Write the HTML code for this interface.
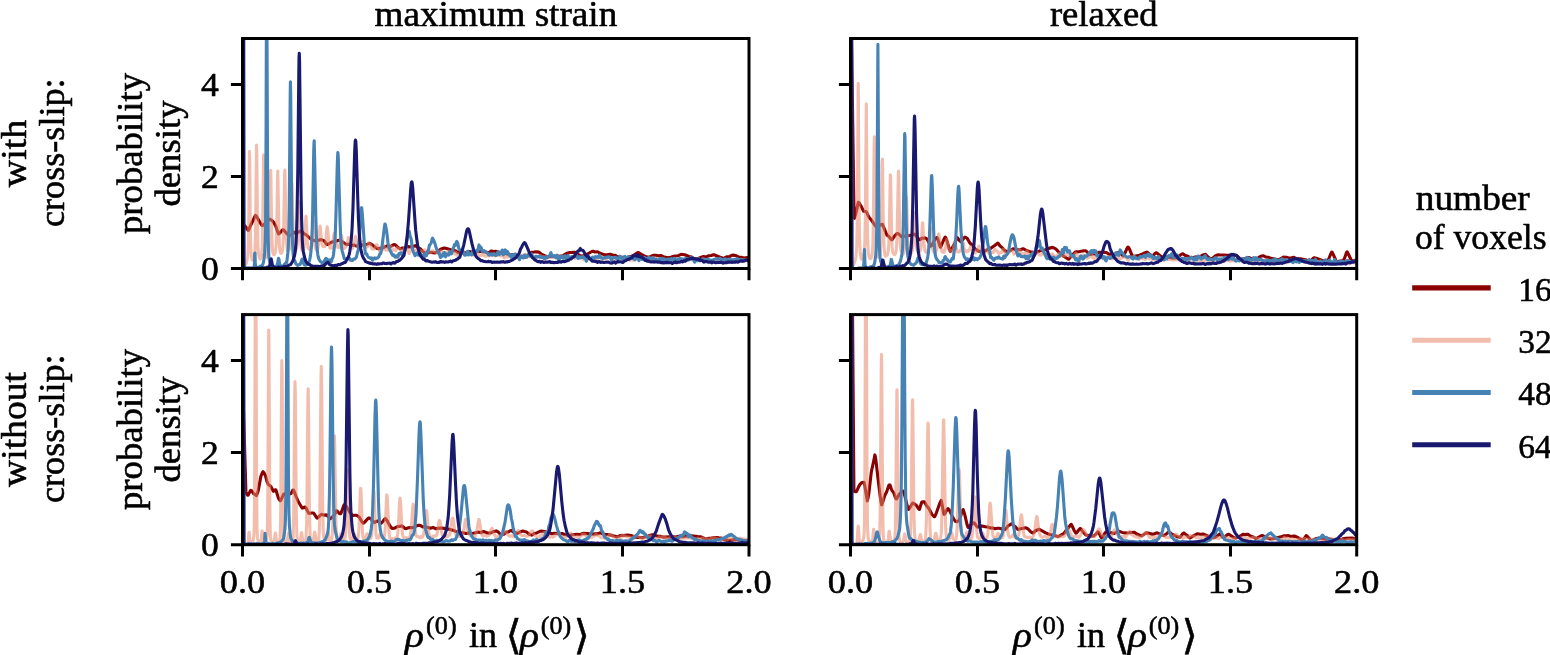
<!DOCTYPE html>
<html lang="en"><head><meta charset="utf-8"><title>probability density of dislocation density</title>
<style>html,body{margin:0;padding:0;background:#fff}svg{display:block}text{font-family:'Liberation Serif', 'DejaVu Serif', serif;fill:#000;stroke:#000;stroke-width:0.55px;stroke-linejoin:round}.c{fill:none;stroke-linejoin:round;stroke-linecap:butt}.s{fill:none;stroke:#000;stroke-width:3.00;stroke-linecap:square}.t{stroke:#000;stroke-width:3.00;fill:none}</style></head><body>
<svg width="1550" height="655" viewBox="0 0 1550 655" role="img" aria-label="Probability density of dislocation density for different numbers of voxels">
<rect width="1550" height="655" fill="#fff"/>
<defs>
<clipPath id="clTL"><rect x="242.50" y="38.50" width="506.50" height="230.00"/></clipPath>
<clipPath id="clTR"><rect x="850.50" y="38.50" width="506.20" height="230.00"/></clipPath>
<clipPath id="clBL"><rect x="242.50" y="314.60" width="506.50" height="230.10"/></clipPath>
<clipPath id="clBR"><rect x="850.50" y="314.60" width="506.20" height="230.10"/></clipPath>
</defs>
<g clip-path="url(#clTL)">
<path class="c" stroke="#8b0000" stroke-width="3.10" d="M242.6 223.1L245.6 226.7L247.9 230.2L248.2 230.4L248.4 230.3L249.4 228.3L250.7 225.2L253.2 220.2L254.7 216.6L255.3 215.7L255.5 215.4L256.3 216.2L257.3 217.7L260.8 223.8L261.8 225.2L262.3 225.6L263.1 225.3L263.6 224.9L268.2 220.4L269.2 219.7L270.2 219.3L270.4 219.3L270.9 219.8L272 220.5L273.5 222.1L275.8 226.2L277.5 231.5L278.5 233.9L278.8 233.9L279 233.7L280.3 232.5L282.3 230L282.6 229.8L283.4 229.8L284.1 230.4L287.1 233.9L289.2 235.6L289.7 235.9L291.2 235.3L293.5 232.3L293.7 232.1L296 233.7L296.3 233.8L298.5 232.1L301.1 230.7L301.3 230.7L303.9 233.6L306.4 235L308.7 237.2L311.5 239.7L313.7 240.2L315.8 241.1L318.8 240.3L320.3 239.7L321.1 239.6L323.9 240.6L326.4 244L327.1 244.5L327.4 244.5L328.4 244L331.7 242.2L333.7 241.4L334.7 241.2L336.5 241.1L337.5 240.5L339 240.3L341.6 241.2L344.9 243.6L346.6 244.5L349.4 244.1L351.7 245.4L352 245.5L354.5 245L355.8 245.7L356.8 246.1L357 246.1L359.6 244.8L362.1 245.1L364.6 245.1L369.7 243.4L372 244.6L374.7 247L376.5 248.2L377.3 248.6L378.3 248.8L379.8 248.3L382.3 248.2L387.1 245.9L387.4 245.9L389.9 246.9L392.5 245.3L394.5 244.5L395 244.7L397.5 247L398.8 247.9L399.8 248.6L400.3 248.7L401.1 248.7L402.6 248L405.1 247.8L407.6 246.6L410.2 246.9L412.7 246.9L415.2 245.6L416 246L417.8 247.5L420.1 248.6L423.6 252.2L425.4 253L427.9 252.9L430.4 252.3L434.5 253L435.2 252.9L437.8 251.7L440.6 249.3L444.1 248L445.6 248.2L448.2 249L453 250.4L455.5 250.7L458.3 252.7L460.8 252.3L464.1 253L465.6 253L468.4 251.6L470.9 251.9L473.5 251.3L476 252L478.5 251.4L481.1 251.4L485.9 252L488.4 252.9L488.7 252.9L491.2 250.9L493.7 251.6L496 251.3L496.5 251.4L501.3 252.9L503.8 253.2L508.9 254.2L511.2 254.9L514 254.9L516.5 255.7L519 256L524.1 257.5L526.6 256.7L529.2 254.2L531.7 252.2L534.2 252L536 251.7L536.8 251.9L539 252.1L541.8 254.5L546.4 256.5L546.9 256.7L551.7 256.7L556.8 256.2L559.3 256.4L560 256.3L562.3 255.7L564.6 254.7L567.1 253.2L568.9 252.7L569.7 252.5L571.9 252.4L574.5 252.2L577 253.7L579.8 255.6L582.3 256.3L584.9 255.3L591.9 251.5L592.4 251.3L593.2 251.3L595 252L597.5 251.7L600 253.3L604.9 254.9L607.4 254.8L610.2 254.2L612.4 255L615.2 255.4L617.8 257.1L620.3 257L625.1 257.5L627.9 257.3L631.4 256.3L633 255.7L636.7 253.2L638 252.5L638.5 252.6L640.5 254L642.8 255.1L645.4 256.5L647.9 257.3L650.4 256.7L653.2 255.3L656 255.2L658.3 255.7L660.8 255.5L663.3 256.7L665.9 257.3L668.4 257.7L670.9 257.2L673.5 256.3L678.3 255.7L681.1 254.4L683.3 254.5L684.6 254.7L688.4 256.3L691.2 256.9L693.7 258.3L696 258.6L698.8 258.2L701.3 257.3L703.6 256.6L706.4 257L708.9 255.7L711.4 255.5L712.9 254.9L713.5 254.8L714 254.8L718.8 256.6L721.6 257.9L723.8 258.2L724.6 257.9L726.6 256.8L729.1 256.8L731.7 255.3L733.2 255.1L734.2 255.4L736.5 255.8L739.3 257.3L741.8 257.4L744.1 258L749.4 257.3"/>
<path class="c" stroke="#e9876a" stroke-opacity="0.55" stroke-width="3.10" d="M242.6 266.3L243.1 265.5L243.9 265.1L245.1 265.2L245.9 264.3L246.1 263.7L247.4 258.8L247.9 254.3L248.4 241.1L248.7 226.7L249.4 151.2L249.7 157.6L250.4 232.4L250.9 250.4L251.5 256.8L252 259.5L252.2 260.1L252.5 260.1L253.2 259.1L253.7 258.7L254.2 257.3L254.5 255.9L255 250L255.5 233.9L256.5 145L256.8 153.6L257.3 207.8L257.8 239.7L258 247L258.5 253.8L259.3 257.8L259.6 258.5L260.1 259.1L260.3 259.1L260.8 258.3L261.3 256.4L261.6 254.7L262.1 248.2L262.3 241.3L262.8 214.1L263.6 154.8L263.9 164L264.4 210.2L264.9 238.3L265.6 252.2L266.1 256.5L266.4 257.4L266.9 256.8L267.7 255.2L268.7 251.7L269.2 247L269.7 230.3L270.4 178.8L270.7 170.3L270.9 178.4L271.7 228.7L272.2 245.2L272.7 251.6L273 253L273.5 254.5L273.7 254.7L274 254.8L274.5 254.3L275 253.1L275.5 251L276 246.8L276.5 235.5L276.8 224.9L277.5 177.2L277.8 171.1L278 179.4L278.8 226.4L279.3 243L279.8 249.7L280.3 252.1L280.8 253.2L281.1 253.4L281.3 253.4L281.8 252.7L282.3 250.7L282.8 246.9L283.1 243.6L283.6 230.3L284.6 174.1L284.9 170.1L286.1 232.6L286.4 238.6L286.9 245.7L287.4 249.7L287.7 250.7L287.9 250.9L288.2 250.9L288.9 250.2L289.4 249L289.9 245.5L290.2 242.2L290.7 230.1L291.7 185.1L292 183.2L293.2 234.6L293.7 244.8L294.2 249L294.5 249.9L294.7 250.3L295 250.2L295.8 249L296 249.2L296.3 249.1L296.5 248.8L296.8 247.8L297.3 243L297.8 233.5L298.8 202.5L299 201.9L300.1 232.2L300.6 241.6L301.3 247.9L301.8 249.8L302.6 251L302.8 251L303.1 250.7L303.6 249.5L304.1 247.2L304.4 245.2L304.9 238L305.6 220.3L305.9 216.5L306.1 216.4L307.4 241.2L307.9 247.2L308.2 248.1L308.4 248.5L308.9 248.8L309.4 249.3L309.7 249.4L309.9 249.3L310.4 248.3L311.2 245.4L311.7 241.2L313 220.2L313.2 220.6L313.5 223.9L314.2 238.1L314.7 244.1L315 245.9L315.5 248.1L316.5 250.1L316.8 250.4L317 250.5L317.8 248.9L318.5 244.7L319.8 227.9L320.1 226L320.3 226.5L321.3 239.1L321.8 243.3L322.3 245.5L322.6 246.1L323.1 246.6L324.1 246.2L324.6 246.7L324.9 246.7L325.1 246.1L325.9 240.9L326.9 228.2L327.1 226.8L327.4 227.6L327.7 229.9L328.7 241.1L329.7 246.8L329.9 247.9L330.2 248.2L330.9 246.4L331.2 246.2L332 247.8L332.2 247.3L333.7 235.5L334 233.9L334.2 233.3L334.5 233.9L335.2 239.9L335.8 242.6L337 246.2L337.8 247.3L338.5 247.8L339 247.7L339.3 247.1L339.8 244.4L340.8 237.2L341.1 235.9L341.3 235.4L341.6 235.7L341.8 236.9L342.8 243.2L343.9 247.3L344.4 248.4L345.6 247.2L346.9 245.3L347.4 243.2L348.2 238L348.4 237.5L348.7 237.9L348.9 239.1L350.2 245.9L350.4 246.6L350.7 246.6L351.2 246.4L351.4 246.5L352.2 248.4L352.5 248.5L353.7 245.2L354.2 243.5L355 238.2L355.2 236.8L355.5 236.4L355.8 237.2L356.8 243L357.3 245L358.3 247.9L358.5 248.3L359 248.7L359.3 248.7L359.6 248.6L361.1 245.9L362.3 241.6L362.6 241.6L363.6 245.9L363.9 246.1L364.4 246.3L364.6 246.5L365.4 248.2L365.6 248.3L366.6 246.5L367.4 246.8L367.7 246.5L368.4 243.3L368.7 242.7L369.7 244.4L369.9 244.2L370.4 244.4L371.7 248.5L372.2 249L373 249.2L373.7 249.2L374.2 248.7L375 247.6L376.3 244.9L376.5 244.6L376.8 244.6L377.5 245.8L379.5 251.2L379.8 251.4L380.8 249.4L381.8 249.1L382.6 249.6L382.8 249.2L383.6 246L383.9 245.7L385.1 249L385.6 250.1L385.9 250.2L386.6 248.8L386.9 248.6L387.6 249.8L387.9 250L388.9 249.1L389.7 248.8L390.7 246.3L390.9 246.1L391.7 247.1L392.7 249.8L393 250.2L394 249.7L395 250L395.8 250.7L396 250.4L397 247.5L398 248.5L398.8 248.1L399.8 248.7L401.1 251.7L401.8 251.6L402.1 251.4L403.9 249.1L404.9 247.1L405.1 247L405.9 248L406.9 249.8L407.1 250.1L407.9 250.3L408.2 250.7L408.9 253.4L409.2 253.6L410.2 250.9L411.2 248.7L411.7 248.8L412.2 249.2L413 249.4L414 250.4L414.2 250.5L415.2 250L416 250.7L417 251.3L417.3 251.1L418 249.3L418.3 249.1L419.3 251L420.1 250.7L420.3 250.9L421.1 252.2L421.3 252.2L422.1 250.8L422.3 250.8L423.1 252.9L423.3 252.9L424.4 249.8L425.4 250.1L426.4 251.4L427.1 252L427.4 252.2L428.4 251.8L430.2 252.6L431.2 252.2L432.2 251L432.7 250.8L433.5 250.9L435 252L436.5 252.6L437.3 252.4L438.5 251.9L439.3 252.3L439.5 252.2L440.3 250.9L440.6 250.8L441.3 251.2L441.6 251.5L443.3 254.9L443.6 254.9L444.6 252.6L446.6 252.6L447.4 253.1L447.6 253L448.4 251.2L448.7 251.1L449.7 253.5L450.4 253.6L450.7 253.4L451.7 251.5L453.5 251.4L453.7 251.6L454.5 253.6L454.7 253.8L455.5 252.4L455.7 252.5L456.5 254.9L456.8 255.2L457.5 253.8L457.8 253.6L458.8 254L459.8 254L460.6 254.2L460.8 254.1L461.8 253L463.6 253.6L464.9 253.6L465.9 254.5L466.9 254.3L467.6 254.8L467.9 254.8L468.9 253.8L470.7 254.3L471.9 254.9L473 254.8L473.7 255.1L474 255L475 253.9L475.7 253.5L476.5 253.3L477.8 253.3L478 253.5L479 255.1L480 255.5L481.1 255.2L481.8 255.3L482.1 255.1L482.8 253.8L483.1 253.8L484.1 255.5L485.1 256.1L485.9 256.3L486.1 256.3L487.1 255.5L487.9 255.3L488.2 255.3L489.2 255.9L490.9 255.1L491.2 255.1L492.2 255.6L493.2 255.4L494 254.7L494.2 254.8L495 255.8L495.2 255.9L497 254.9L497.3 254.9L498.3 255.5L499.3 255.5L501.1 256.1L501.3 256.1L502.3 255.2L503.1 254.7L503.3 255L504.1 257.6L504.4 257.9L505.4 256.3L507.1 257L508.1 257L509.2 256.4L510.4 255.2L511.4 255.5L512.5 255.5L513.2 255.8L513.5 255.8L514.2 255.3L514.5 255.4L515.5 256.7L516.5 256.6L517.5 257L518.5 257.1L520.3 256.8L521.6 255.3L522.3 255.8L522.6 255.8L523.3 254.9L523.6 255L524.4 257.2L524.6 257.3L525.4 254.7L525.6 254.2L526.6 254.9L527.4 256.3L527.6 256.5L528.4 255.8L528.7 255.8L529.4 256.8L529.7 256.9L530.4 255.4L530.7 255.3L531.7 256.7L532.7 256.6L534.7 257.2L535.7 257.1L536.8 257.7L537.8 257.1L538.8 257L539.5 256.6L540.6 255.6L540.8 255.7L541.8 257.7L542.8 257.5L543.6 256.6L543.8 256.5L544.6 257.3L544.9 257.4L545.6 256.9L545.9 256.9L546.6 257.9L546.9 258.1L547.9 257.3L548.9 257.4L550.7 256L550.9 255.9L553 257.3L554 257L554.7 256.2L555 256.1L555.7 257.1L556 257.2L557 256.7L557.8 257.2L558 257.1L558.8 255.9L559 255.7L560.8 257.7L561.1 257.6L561.8 255.8L562.1 255.6L563.1 257.8L564.1 257.9L564.9 258.3L565.1 258.3L566.1 257.1L567.1 256.6L567.9 256.5L568.1 256.6L568.9 257.3L569.2 257.4L570.2 256.5L572.2 257.4L573.2 257.5L574 257.4L574.2 257.4L575 258.4L575.2 258.4L576.2 257L577 256.8L577.3 256.8L578.3 257.6L579 257.7L580.3 257.2L581.3 257L582.1 257.2L582.3 257.4L583.1 259.3L583.3 259.5L584.3 258L585.4 258.2L586.4 257.3L587.1 256.5L587.4 256.5L588.4 258.2L589.4 258.6L591.2 258.9L591.4 258.9L592.4 257.7L593.2 257.3L593.5 257.3L594.5 258.3L595.5 258.3L596.2 258.8L596.5 258.8L598.3 257.3L599.3 256.9L599.5 257L601.3 259.3L601.6 259.4L602.3 258.1L602.6 257.9L603.3 258.6L603.6 258.6L604.3 257.2L604.6 257.2L605.6 259.1L606.4 259.1L606.6 258.9L607.6 257.3L609.4 257.5L610.4 258.7L610.7 258.8L611.4 257.8L611.7 257.6L612.7 258.1L613.7 257.7L614.7 258.2L615.7 259.1L616.8 259L618.5 258.2L618.8 258.2L619.5 258.8L619.8 258.8L620.8 257.5L621.8 257.7L622.6 257.5L623.8 258.1L624.6 257.8L624.9 257.9L625.6 259L625.9 259.1L626.6 258.4L626.9 258.4L627.9 258.9L628.6 258.5L628.9 258.6L629.7 260L629.9 260.2L631.7 258.8L631.9 258.9L632.7 260.3L633 260.4L634 258.1L634.7 258L635 258.1L635.7 259.2L636 259.3L636.7 258.5L637 258.4L638 259.3L638.8 259.2L639.8 259L640 258.8L640.8 257.4L641.1 257.4L642.1 259.5L643.1 259.3L644.1 259.2L644.9 258.7L645.1 258.7L646.1 260L647.9 259.6L648.1 259.6L648.9 260.2L649.2 260.2L650.2 259L650.9 258.9L651.2 258.7L651.9 257.6L652.2 257.6L653 259.4L653.2 259.7L654.2 258.6L655.2 258.8L656 258.2L656.2 258.2L658 259.4L658.3 259.4L659.3 258.5L660.3 258.7L661.1 259.4L661.3 259.5L662.1 258.8L662.3 258.8L663.1 259.7L663.3 259.7L664.1 258.9L664.3 258.9L666.1 260.3L667.1 260.7L668.1 260.2L669.4 259.2L670.4 259.4L671.2 260.3L671.4 260.3L672.4 259.4L674.2 258.7L674.5 258.9L675.5 261L676.5 260.7L677.5 259.4L679.3 259.8L680.3 260.3L680.5 260.2L681.3 258.6L681.6 258.4L682.6 259L683.3 259.6L683.6 259.7L684.3 259.4L684.6 259.4L685.4 260.3L685.6 260.3L686.4 259.4L686.6 259.3L687.4 260.1L687.6 260.2L689.7 258.9L690.7 259.3L691.4 259L691.7 259L692.4 260.1L692.7 260.2L693.5 258.9L693.7 258.7L694.5 259.1L694.7 259L695.5 258.3L695.7 258.3L696.5 259.9L696.7 260L697.5 258.8L697.8 258.7L698.8 259.7L699.8 259.7L700.8 259.5L701.6 259.9L701.8 259.9L702.6 258.8L702.8 258.6L703.8 259.7L705.6 260.1L706.9 260.1L707.6 260.4L707.9 260.4L708.9 259.6L709.9 260.1L710.9 260.9L711.7 261L713.7 260L714 260L715 260.8L716.7 259.7L717 259.7L718 260.3L719 260L719.8 260.4L720 260.3L720.8 259.3L721 259.3L721.8 261.2L722.1 261.5L723.1 260.2L723.8 259.7L724.1 259.7L725.1 260.4L726.1 260.3L726.9 260.9L727.1 261L728.1 260.4L729.1 260.4L729.9 260.3L730.9 259.6L731.2 259.6L731.9 260.2L732.2 260.3L733.2 259.7L734.2 260.2L736 260.6L737.3 260.1L738 260.6L738.3 260.6L739 259.6L739.3 259.6L740 261.4L740.3 261.5L741.3 259.6L742.1 259.5L743.3 260.1L744.3 260L745.4 260.7L746.1 260.9L747.1 260.5L747.4 260.6L748.1 261.6L748.4 261.5L749.4 259.4"/>
<path class="c" stroke="#4682b4" stroke-width="3.10" d="M242.6 11L243.6 11L243.9 268.6L245.1 268.6L247.2 268.1L247.9 268.6L248.2 268.6L249.2 267.9L252.2 268.5L254 267.1L254.2 266.4L254.5 263.1L254.7 253.5L255 253.1L255.3 262.4L255.5 266L255.8 266.8L256.5 267.1L258.3 267.3L259.3 266.9L260.3 266.1L261.3 266.1L262.1 265.7L262.6 264.9L263.1 263.7L263.6 261.6L264.1 258.1L264.6 252.9L265.1 243.8L265.4 235.8L265.6 220.5L266.1 123.8L266.4 15.1L266.6 11L266.9 11L267.7 203.9L268.2 240.7L268.7 253.4L268.9 256.6L269.4 260.5L269.9 262.1L270.7 263.8L272.2 266L273.2 266.8L273.5 266.9L274.5 266.4L275.3 266.6L275.8 266.6L276.3 266.4L276.8 265.7L277.5 263.5L278.5 258.3L278.8 258.6L279.6 263.7L280.1 265.2L280.8 265.8L281.6 266.1L282.8 266.1L283.6 265.8L284.6 264L285.6 263L286.4 262.9L286.6 262.4L287.1 259.3L287.7 254.8L288.2 248.3L288.7 235.8L289.2 209.5L290.2 94.9L290.4 81.9L290.7 94.6L291.7 209.9L292 225.7L292.5 243.4L293 252.4L293.5 257.8L293.7 259.1L294.5 260.1L294.7 260.6L295.8 263.7L297.5 265.5L297.8 265.5L298.8 264.5L299.6 264.8L300.1 264.3L301.1 262.2L301.8 259.7L302.1 259.1L302.3 259.1L302.6 259.5L303.6 263.5L303.9 264.1L304.4 264.8L304.9 265.1L305.6 265.3L305.9 265.2L306.6 263.7L306.9 263.5L307.7 264.5L307.9 264.5L309.2 261.3L309.7 259.6L310.2 257.3L310.7 254L311.5 245.9L312.2 230.2L312.7 210.6L313.7 152.2L314 142.8L314.2 140.9L314.7 159.7L315.8 216L316.3 233.1L317 247.5L317.8 254.7L318.3 257.2L318.8 258.8L320.1 261.2L320.6 261.6L322.1 262.6L322.8 263.5L323.1 263.4L325.4 259.1L325.9 258.4L326.1 258.3L326.4 258.6L327.1 259.8L328.2 260L328.9 260.6L329.2 260.6L329.9 259.8L330.2 259.9L330.9 261.7L331.2 261.8L332.2 258.8L333 257.1L333.5 254.3L334.7 244.4L335.2 236.1L336 213L337.3 163.2L337.8 152.6L338 153.3L338.3 158.1L340.1 223.1L340.6 235.1L341.1 242.8L341.6 247.6L342.1 250.6L343.3 254.9L344.1 258.1L344.4 258.6L345.4 258.9L346.1 259.6L346.4 259.6L347.1 258.2L347.4 258L348.2 258.6L348.4 258.6L349.2 258.1L349.4 258.2L350.4 260.1L351.2 259.8L351.4 259.8L352.2 260.6L352.5 260.5L353.5 259L354.2 259.3L354.5 259.2L355.2 258.6L356 257.7L356.5 256.7L357.5 252.3L358.3 249.7L358.5 247.9L359.3 238.9L361.1 211.1L361.3 208.6L361.6 207.7L361.8 208.6L362.3 213.8L364.4 244.3L364.9 249.5L365.4 253.1L365.6 254L366.4 253.7L366.6 253.8L367.4 255.7L368.4 257.3L368.7 257.5L369.7 257.7L370.4 258.4L370.7 258.4L371.4 257.8L371.7 258L372.5 259.9L372.7 260.1L373.7 258.5L374.5 257.8L374.7 257.8L375.5 258.8L375.8 258.8L376.8 258.1L377.5 258L378 257.6L378.8 256.7L379.8 254L380.6 253.7L380.8 253.2L381.8 248.3L384.4 227.1L384.9 224L385.1 224.1L385.4 224.7L386.6 230.7L387.9 242.2L388.9 247.8L389.7 249.7L390.9 251.9L391.7 253.7L392.7 255.4L393 255.5L393.7 254.8L394 254.9L395 257L395.8 257.3L396 257.1L396.8 255.9L397 255.9L397.8 257.2L398 257.1L398.8 254.1L399 253.5L399.8 254.1L400.1 254L400.8 252.8L401.1 252.8L402.1 254.9L402.8 254.7L403.1 254.4L404.1 251.8L405.1 248.4L405.9 247.6L406.1 246.6L407.1 239.3L408.4 233L408.9 231.2L409.2 231.3L409.4 232.3L410.2 236.6L410.9 238.2L411.2 239.2L412.2 247.4L412.7 249.9L413.2 251.7L415 255.5L415.2 255.6L417 253L417.3 253L418.3 255.1L419 255L419.3 254.8L420.1 253.6L420.3 253.6L421.3 255.2L422.3 255.7L423.1 255.6L423.3 255.7L424.1 256.8L424.4 256.6L425.1 253.6L425.4 253.3L426.1 255.6L426.4 255.7L427.4 251.5L428.2 251.1L428.4 250.4L429.4 245.1L430.2 244.5L431.2 243L432.2 238.7L432.5 238.2L433 238.8L434.2 241.3L436.5 248.7L438.3 253L438.5 253.4L439.3 253.4L439.5 253.8L440.3 257.1L440.6 257.5L441.3 255.8L441.6 255.5L442.3 256.3L442.6 256.1L443.6 253.2L444.4 252.5L444.6 252.8L445.4 256.4L445.6 256.8L446.4 254.4L446.6 254L447.6 254.5L448.4 255.2L448.7 255L449.4 252.4L449.7 252L450.7 253.4L451.4 253.8L451.7 253.5L452.7 249.4L453.5 247.8L454.5 244.8L454.7 244.4L455.5 245.3L455.7 245L456.5 241.8L456.8 241.4L457.5 242.4L457.8 243.2L458.8 248.4L459.5 249.6L459.8 249.9L460.6 250.1L460.8 250.5L461.6 252.6L461.8 252.7L462.6 250.4L462.8 250.3L463.8 253.9L464.6 255.1L464.9 255.3L466.6 254.8L466.9 254.3L467.6 251.4L467.9 251.2L468.7 254.3L468.9 254.8L469.9 253.9L470.9 254L471.7 254.9L471.9 254.6L472.7 250.8L473 250.5L473.7 253.8L474 254.2L475 251.9L475.7 251.8L476 251.5L476.8 250.2L477 250.1L477.8 251.2L478 250.8L478.8 245.7L479 244.9L480 247L480.8 247.1L481.1 247.5L482.1 251L482.8 251.7L483.1 251.7L483.8 250.7L484.1 250.6L485.9 252.2L486.9 252.3L487.1 252.5L488.9 255L489.2 255.1L490.2 253.9L491.2 254.2L491.9 255L492.2 255.1L493.2 254.4L494 253.5L494.2 253.6L495.2 255.3L496 255.5L496.3 255.4L497 254.4L498 251.8L498.3 251.7L499 254.2L499.3 254.6L501.1 253L502.1 250.1L502.3 250.1L503.1 254.3L503.3 254.8L504.4 250.8L505.1 249.8L505.4 250.1L506.1 253.2L506.4 253.5L507.1 251.5L507.4 251.3L509.2 255.2L509.4 255.5L510.2 254.6L510.4 254.7L511.2 257.1L511.4 257.5L512.2 257.2L512.5 256.9L513.2 254.8L513.5 254.7L514.2 257L514.5 257L515.2 254.1L515.5 253.8L516.3 256L516.5 256.3L517.3 255.1L517.5 255L518.3 256.3L519.3 259.4L519.5 259.6L520.6 256.7L521.3 256L521.6 256L522.6 257.4L523.3 258L523.6 257.8L524.4 255.4L524.6 255.1L525.6 256.5L526.4 257.1L526.6 257.2L527.6 256L528.4 254.4L528.7 254.3L529.4 255.9L529.7 256L530.4 254.2L530.7 253.9L531.2 253.8L531.4 253.8L531.7 254.1L532.7 256.6L533.5 258L533.7 258.4L534.5 258.7L534.7 258.5L535.7 256.3L536.8 256.5L537.5 256.9L537.8 256.9L538.5 256.3L538.8 256.2L539.8 257.2L540.8 256.8L541.8 257.4L542.6 257.2L542.8 257.3L543.8 258.3L544.6 258.8L544.9 258.7L545.6 257.1L545.9 256.9L546.6 257.8L546.9 257.9L547.9 257L548.9 255.7L549.7 255.8L549.9 255.5L550.7 252.9L550.9 252.7L551.9 255.4L552.7 256.5L553 256.6L554 255.6L554.7 255.8L555 256.1L555.7 257.7L556 257.7L556.8 255.4L557 255.2L558.8 260.9L559 260.9L559.8 257.1L560 256.5L560.8 257.6L561.1 257.7L561.8 256.2L562.1 256.2L563.1 258.1L563.8 258.2L564.1 257.9L564.9 255.8L565.1 255.7L565.9 258.3L566.1 258.7L567.1 257.3L567.9 255.8L568.1 255.7L569.2 257.8L569.9 258.4L570.2 258.3L571.9 256.5L572.2 256.5L573 257.2L573.2 257.2L574.2 256.1L575 256.4L575.2 256.3L576 254.7L576.2 254.6L577.3 257.4L578 258.4L578.3 258.4L579 256.9L579.3 256.7L580 257.8L580.3 257.9L581.3 257.2L582.1 257.4L582.3 257.4L583.1 256.5L583.3 256.5L584.1 257.9L584.3 258.1L585.1 257.5L585.4 257.8L586.1 260.9L586.4 261.2L587.4 257.8L588.1 256.4L588.4 256.3L589.4 258.3L590.4 259L591.2 259.1L591.4 258.9L592.2 257.3L592.4 257L593.5 257.6L594.2 258.5L594.5 258.5L595.2 256.8L595.5 256.6L596.2 257.3L596.5 257.3L597.3 256.6L597.5 256.6L598.3 257.6L598.5 257.5L599.3 255.4L599.5 255.1L600.5 257.1L602.6 258.3L603.3 258.4L603.6 258.3L604.6 257.4L605.6 257.7L606.6 257L607.6 257.4L608.6 256.9L609.7 256.9L610.4 257.6L610.7 258L611.4 260.1L611.7 260.3L612.7 257.7L615.5 257.2L615.7 257.4L616.5 258.7L616.8 258.9L617.5 258.2L617.8 258.1L618.5 258.8L618.8 258.6L619.5 256.5L619.8 256.2L620.8 257.6L622.6 259.4L622.8 259.4L624.6 256.5L624.9 256.4L625.9 257.9L626.6 258.2L626.9 258.1L627.9 256.7L628.9 257L629.9 257.6L631.7 257L631.9 257.1L633 257.9L633.7 257.6L634 257.8L634.7 259.7L635 259.8L635.7 257.7L636 257.4L636.7 258.5L637 258.5L637.8 256.9L638 257L638.8 260.2L639 260.6L640.8 256.9L641.1 256.8L641.8 259L642.1 259.3L643.1 258L644.1 257.6L644.9 257.7L645.1 257.9L646.1 259.3L646.9 259.8L647.1 259.7L648.1 257.9L648.9 257.3L649.2 257.3L650.2 259.1L651.2 259.2L651.9 259.5L652.2 259.4L653 257.8L653.2 257.7L654.2 260L655 260.7L655.2 260.6L656 259.3L656.2 259.2L657.3 260.3L658.3 260.1L659.3 259.1L660 258.7L660.3 258.7L661.1 259.9L661.3 259.9L662.1 258.2L662.3 258.2L663.1 260.5L663.3 260.8L664.1 259.1L664.3 259L665.4 260.7L666.1 260.7L666.4 260.5L667.4 259L668.4 259.3L669.4 260.1L670.4 259.5L671.2 258.6L671.4 258.6L672.2 259.5L672.4 259.6L673.5 258.9L674.2 258.2L674.5 258.2L675.2 259.8L675.5 260.1L676.5 259.8L677.3 260.1L677.5 260.1L678.5 259L679.5 258.6L680.3 258.5L681.6 259.3L682.3 259.5L682.6 259.5L683.3 259L683.6 259L684.3 259.8L684.6 259.8L685.6 258.3L686.4 258.4L686.6 258.6L687.4 259.9L687.6 260.1L688.6 259.5L689.4 259.8L689.7 259.6L690.7 257.8L691.4 257L691.7 257.1L692.7 259.7L693.5 259.5L693.7 259.8L694.5 261.9L694.7 262.1L695.7 260.1L696.7 260.4L697.5 260.8L697.8 260.7L698.5 258.8L698.8 258.7L699.5 260.5L699.8 260.8L700.8 260.3L701.6 260.2L702.6 260.6L702.8 260.5L703.6 259.1L703.8 258.9L704.8 259.5L705.9 260.8L706.6 261.1L706.9 260.9L707.6 259.2L707.9 258.9L709.7 260.6L709.9 260.7L710.9 260.1L711.9 260.4L712.7 260.2L714 259.4L715 259.2L715.7 258.8L716 258.7L717 259.2L718 259.1L719.8 258.3L720 258.3L720.8 258.9L721.8 261.3L722.1 261.5L722.8 259.8L723.1 259.6L723.8 260.1L724.1 260L724.8 258.8L725.1 258.8L725.9 260.4L726.1 260.7L727.1 259.6L728.1 259.6L728.9 259L729.1 259L730.2 259.9L732.2 259.8L733.2 260.1L734.2 259.6L735.2 259.9L736 259.7L737 258.6L737.3 258.6L738.3 260L740 260.5L740.3 260.4L741 259.4L741.3 259.4L742.1 261.1L742.3 261.4L744.1 259.9L745.1 259.7L746.4 260.2L747.4 260.4L748.1 260.7L748.4 260.7L749.4 260.3"/>
<path class="c" stroke="#191970" stroke-width="3.10" d="M242.6 11L243.6 11L243.9 267.9L244.1 267.8L244.9 268L246.1 268.7L247.2 268.2L247.9 268.2L249.2 268.7L250.2 268.2L251.2 268.4L252.2 268.3L253.2 268.5L255.3 268.2L257 268.4L258.3 268.2L259.3 268.4L260.1 268.1L260.3 268.1L261.1 268.7L261.3 268.7L262.3 267.7L263.4 268L265.4 267.7L266.1 268L266.4 268L267.2 267.2L267.4 267.1L268.2 267.6L268.4 267.6L269.4 266.3L269.9 265L270.9 259.2L271.2 258.8L272.5 265.5L273 266.7L273.5 267.3L274.5 267.3L275.5 268L276.5 267.5L277.5 267.4L278.5 266.9L279.6 267.3L281.6 267.3L282.8 267.1L284.6 266.5L285.4 266.7L286.6 266.3L287.4 266.3L287.7 266.2L288.7 265.2L290.4 264.6L290.7 264.4L292.7 261.2L294.5 255.7L295.3 251.3L296 243.3L296.5 233.5L297 216.5L297.8 170.3L298.8 73.5L299 57.4L299.3 53.2L299.6 62.5L299.8 82.1L301.1 194.8L301.6 219.5L302.3 240L302.8 247.8L303.4 251.7L304.4 256.8L305.4 260.2L306.1 261.8L307.7 263.6L308.7 264.3L309.9 264.6L310.9 265.6L312 265.8L313 266.3L317.8 266.3L319.8 266.8L320.1 266.8L321.1 266.1L322.1 266L323.1 266.3L324.1 265.7L326.6 262.7L327.4 262.2L327.7 262.2L328.2 262.5L329.2 264.1L330.2 265.1L333 265.7L336 265.2L337 265.4L338.3 264.5L339.3 264.8L340.1 264.7L341.3 263.9L342.3 263.6L344.1 262.6L345.1 262.5L345.4 262.3L348.4 256.9L349.2 254.4L349.7 252L350.7 245.3L351.4 237.5L352 229.8L353 207.3L354.7 151L355.2 141.3L355.5 140L355.8 141.4L356.3 151.2L357.8 200L358.5 219.6L359.3 234.1L360.1 243.3L360.8 249L361.3 251.7L362.1 254.7L362.8 256.8L363.6 258.3L364.6 259.7L365.6 261.6L368.7 262.9L369.7 263L370.7 263.5L371.7 263.4L372.7 263.9L374.7 263.7L376.5 264.4L376.8 264.3L377.8 263.7L378.8 264L380.6 263.7L381.6 263.8L382.8 263.1L383.6 263L384.9 263.5L386.6 263.6L387.9 263.2L388.9 263.2L389.7 263.1L390.9 263.9L392 263.1L393 262.6L394 262.9L394.7 263.2L395 263.2L396 261.8L398 261.3L399 260.5L400.1 260L401.1 259L403.9 255.5L404.1 254.8L405.9 246L407.1 236.8L408.4 222.4L410.7 188.9L411.2 183.8L411.4 182.5L411.7 181.9L412 182.1L412.2 183.2L412.7 187.6L415 221.1L415.7 230.2L416.8 239.4L418 247.9L418.8 251.1L420.3 255.5L421.3 256.7L423.1 259.1L423.3 259.3L424.1 259L424.4 259.1L425.4 260.5L426.1 261L426.4 261L427.4 260.5L429.2 261.5L432.2 262.2L433.5 261.9L434.5 262.1L435.5 261.7L436.5 262.3L437.3 262.5L438.5 262.2L439.3 262.4L439.5 262.3L440.3 261.5L440.6 261.5L441.6 262L443.3 261.8L444.6 262.4L445.6 261.8L447.6 262L448.7 261.9L450.4 261.1L450.7 261.1L451.4 261.9L451.7 262L452.7 261.1L453.5 260.7L455.5 260.3L456.8 259.2L457.8 259L458.8 257.8L459.5 257.6L459.8 257.2L460.8 253.8L461.8 251.9L463.8 244.8L466.6 231.2L467.4 229.2L467.6 228.9L468.2 228.7L468.7 229.3L469.4 231.7L471.9 243.4L473.7 250.4L476 256.4L477.8 258.3L479 258.9L480.8 260.7L481.1 260.8L482.1 260.6L483.1 261.2L486.1 261.8L487.1 261.8L488.2 261.4L489.9 261.7L490.9 261.6L492.2 262.4L493.2 262.3L494.2 262L496 262.3L497.3 262L500 262.3L501.3 261.8L502.3 262L503.3 261.6L504.4 262.2L505.1 262.3L506.4 261.7L507.4 261.9L508.4 261.6L509.4 261.4L512.2 260.2L513.5 259.2L514.5 258.7L516.5 257.1L517.5 255.3L518.3 254.5L519.3 253L520.6 248.8L521.6 247.3L522.6 245L524.1 242.8L524.4 242.5L524.6 242.5L525.1 243L525.6 243.8L527.6 248.4L529.7 253.5L532.5 257.7L533.7 258.5L534.7 259.9L535.7 260.2L536.8 261.1L537.8 261.6L538.5 261.7L539.5 261.3L539.8 261.4L540.6 262.3L540.8 262.4L541.8 261.6L542.8 261.8L543.8 262.4L545.9 261.9L546.9 262.2L547.6 262.1L548.9 261.9L549.7 261.6L549.9 261.6L550.9 262.6L551.9 262.3L552.7 262.3L554 262.7L556 262.2L557 262.4L557.8 262.4L559 261.7L560 261.8L560.8 262.2L561.1 262.2L562.1 261.5L563.1 261.4L564.1 261.8L565.1 261.6L566.1 261L567.1 260.8L568.1 260.2L569.2 259.9L570.2 259.1L571.2 258.9L573.2 257L574 256.8L574.2 256.6L576 253.3L578 250.9L578.3 250.8L579 251L579.3 250.7L580 248.8L580.3 248.5L581.3 250L583.1 250.5L583.3 250.8L585.4 254.6L587.1 256.5L587.4 256.7L588.1 256.6L588.4 256.9L589.4 258.9L590.4 259L591.9 260.8L592.4 261.1L594.2 261.2L595.5 261.6L596.2 261.4L596.5 261.4L597.3 262.3L597.5 262.4L598.5 261.8L599.3 261.5L599.5 261.5L600.5 262.5L602.3 262.1L603.6 262.5L604.3 262.5L605.6 262.2L608.4 262L609.7 262.8L611.4 263.1L612.4 262.9L613.7 262L614.5 261.9L614.7 262L615.5 262.9L615.7 263.1L617.5 261.6L617.8 261.5L618.8 262L619.8 261.8L620.5 261.8L622.8 262.4L623.8 261.7L624.9 260.7L625.9 260.6L626.9 259.8L628.9 259.3L630.9 258.2L631.7 258L633 256.1L633.7 255.5L634 255.4L635 255.7L635.7 255.3L636 255.3L636.7 256.2L637 256.2L637.8 254.9L638 254.9L639 256.6L640 256.6L641.1 257.2L642.1 257.3L644.1 259.1L644.9 260.3L645.1 260.4L645.9 259.9L646.1 259.9L646.9 261.1L647.1 261.2L648.1 260.9L649.2 261.4L651.2 262L652.2 262L653.2 261.7L654.2 262.1L655.2 261.7L657.3 262.1L659.3 262.1L660.3 262.3L661.3 262.7L662.3 262.6L663.3 262.9L667.1 262.4L670.2 262.7L671.2 262.6L671.4 262.6L672.2 263.4L672.4 263.5L673.5 262.6L674.5 262.5L675.2 261.9L675.5 261.9L676.2 262.7L676.5 262.8L677.5 262.3L679.5 262.2L680.5 261.8L681.3 261.4L681.6 261.3L682.6 261.9L683.6 261.4L684.3 260.7L684.6 260.6L685.4 261.1L685.6 261L686.6 259.6L687.4 259.3L688.6 259.3L690.7 258.4L692.4 258.1L693.7 258.6L694.7 258.7L696.5 259.2L697.8 259L698.8 259.7L699.5 259.4L699.8 259.4L700.5 260.5L700.8 260.6L701.8 260.3L702.6 260.7L703.6 261.9L703.8 262.1L704.8 261.5L705.9 261.6L706.6 261.5L707.9 262L708.6 262.2L709.7 262.2L710.7 261.9L710.9 261.9L711.7 262.8L711.9 262.9L712.9 262.1L714 262.2L715.7 262.7L717 262.4L718 262.6L719 262.3L721 262.4L722.1 262.5L723.1 263.2L724.1 262.7L725.1 262.8L726.1 262.5L727.1 262.6L727.9 262L728.1 261.9L729.1 262.4L730.2 262L730.9 262L732.2 262.4L733.2 262L735 262.3L736.2 261.8L738 262.2L740.3 261L741 260.8L744.1 261.1L745.4 260.2L746.1 260L748.1 260.6L748.4 260.6L749.4 260"/>
</g>
<path class="t" d="M242.50,268.50v11.70M369.50,268.50v11.70M495.50,268.50v11.70M622.50,268.50v11.70M749.00,268.50v11.70M242.50,268.50h-11.60M242.50,176.50h-11.60M242.50,84.50h-11.60"/>
<rect class="s" x="242.50" y="38.50" width="506.50" height="230.00"/>
<g clip-path="url(#clTR)">
<path class="c" stroke="#8b0000" stroke-width="3.10" d="M850.6 11L850.8 11L851.1 11.3L854.1 217.3L854.4 218.3L855.1 216L856.2 212.2L857.9 203.9L858.4 202.2L858.7 202.2L861 206L863.5 211L863.7 211.3L865.3 211.5L866 211.7L866.3 211.9L868.8 216.9L871.3 219.9L874.6 224.9L876.1 226.8L876.9 227.3L877.4 227.4L878.9 225.8L881.5 224.5L882.2 224.2L882.5 224.4L886.8 234.8L887 235.2L889 236.6L890.6 238.7L891.6 239.8L892.1 239.7L894.1 236.6L895.6 234.9L897.1 233.5L898.9 234L901.4 236.6L901.7 236.8L902.5 236.8L903.2 236.8L904.2 236.3L906.8 235.8L911.6 235.3L914.3 234.1L914.8 234.3L915.1 234.6L918.1 238.5L919.4 239.7L920.2 239.7L921.9 238L924.2 238.3L925 237.9L926.2 238.4L927 239.1L930 244.8L930.8 245.9L931 246.1L932 245.2L934.6 239.7L935.8 238.2L936.9 237.5L937.1 237.6L937.6 238.6L939.9 245.8L940.4 247.1L940.6 247.2L943.7 239.8L944.9 237.3L945.2 237.1L946 238.4L947 241L949.5 249.7L950.3 251.3L950.5 251.4L952.3 247.7L954.8 243.2L956.1 240L957.1 237.8L957.3 237.6L957.6 237.9L959.9 241L960.9 241.7L961.1 241.7L962.1 240.6L964.2 237.7L964.9 237.1L965.9 237.5L967.2 238.4L970 243.2L970.7 243.9L972.5 245.1L975 248.8L978.6 251.3L980.1 251.3L982.6 251.6L985.2 250.9L987.4 249.7L990.2 248.7L992.8 246.7L995.3 245.1L997.3 243.3L997.8 243L1000.3 246.2L1002.6 248.2L1004.6 250.4L1006.2 251.6L1010.2 250.8L1013 248.7L1014.3 248.9L1015.5 249.5L1018 249.8L1020.3 249.8L1023.1 248.7L1025.4 249.9L1030.7 252.1L1035.8 252.2L1038.3 251.7L1040.8 250.4L1043.3 250.2L1045.6 249.7L1050.7 247.7L1052.7 247.4L1055.7 248.8L1058.5 251.9L1061 253.9L1063.3 256L1068.4 259.3L1068.6 259.3L1069.4 258.5L1072.7 254.6L1075.2 252.1L1076 251.9L1078.8 251.7L1083.8 250.8L1085.6 250.8L1086.6 251.5L1088.9 253.8L1090.4 254.5L1091.4 254.1L1093.7 253.8L1096.2 254.3L1096.5 254.2L1099 252.2L1102.8 252.2L1106.3 252.5L1109.1 254.3L1111.6 255.1L1116.4 253.7L1118.7 252.4L1119.2 252.2L1120.5 253.3L1122.8 255.8L1123 255.9L1124.3 254.3L1126.8 248.8L1127.8 247.1L1128.1 247L1128.8 247.9L1129.3 248.7L1131.9 255.1L1132.6 256.2L1133.1 256.5L1134.4 256.2L1139.5 255.3L1142 254.3L1144.5 252.9L1146.8 252.1L1147.1 252.1L1147.6 252.5L1150.1 254.9L1151.9 256.1L1152.1 256.1L1152.6 255.8L1155.1 253.4L1155.9 253L1156.4 252.8L1158.2 254.1L1161 256.4L1162.2 257.1L1164.8 257.2L1167.3 256.7L1169.8 257.6L1172.3 258.1L1174.6 257.7L1175.9 257.9L1177.2 257.6L1180.7 254.8L1182.5 253.7L1183.2 254L1185.2 255.4L1187.5 256.1L1189.8 257.5L1192.3 258L1195.1 257.1L1197.6 256.8L1199.9 256.9L1202.7 255L1205 254.4L1205.5 254.4L1205.7 254.6L1207.8 256.8L1209.5 258L1211 258.9L1212.8 258.1L1215.3 255.9L1216.9 255.2L1218.1 254.8L1220.4 255L1222.9 255L1227.7 255.3L1230.5 255L1235.3 255.3L1236.3 255.5L1237.9 256.6L1240.4 259L1241.7 259.6L1243.2 259.1L1245.7 258.5L1248 257.6L1248.7 257.5L1249.2 257.7L1250.8 258.5L1253.3 258.5L1255.1 259.7L1256.1 259.3L1258.1 258.2L1259.1 257.2L1260.6 256.2L1263.2 255.8L1264.9 256.4L1265.9 257.1L1268.2 257.3L1271 258.4L1273.3 258.7L1278.1 259.9L1278.6 259.8L1279.9 259.2L1283.6 257.1L1286.2 257.3L1288.7 258.1L1291.2 258.1L1293.8 257.3L1296.3 258.7L1298.8 258.9L1301.4 258.9L1302.9 259.2L1306.2 260L1308.7 261L1310 261.3L1310.5 261.1L1311.2 260.5L1313.2 258.3L1314 257.7L1316.3 258.2L1322.3 260.4L1323.9 260.8L1327.7 260.9L1327.9 260.8L1328.4 259.8L1330.9 253.5L1331.7 252.1L1332 252.1L1333 253.9L1335.8 260.2L1336.5 261.5L1336.8 261.7L1341.6 260.7L1342.8 260.8L1343.1 260.7L1344.4 258.5L1346.6 252.4L1346.9 251.9L1347.1 251.8L1348.1 253.5L1350.7 259L1351.7 260.6L1351.9 260.8L1354.2 260.5L1357 259.7"/>
<path class="c" stroke="#e9876a" stroke-opacity="0.55" stroke-width="3.10" d="M850.6 266.3L851.1 265.9L851.9 266.3L852.1 266.1L853.1 264.6L853.9 264.1L854.6 262.2L855.4 259.6L855.9 257L856.4 251.7L856.7 246.8L857.2 224.9L857.4 200.9L858.2 83.3L858.4 98.7L858.9 187.4L859.4 233.6L859.7 243L860.2 251.7L861 257.8L861.2 258.7L861.7 259.4L862.5 259.3L863 258.7L863.7 255.8L864.3 251.6L864.8 243.2L865.3 219.3L866.3 103.8L866.5 122.4L867 194.4L867.5 233.5L867.8 242.7L868.3 252.2L868.6 254.4L869.1 256.9L869.6 258.1L870.1 258.6L870.6 258.6L871.1 258.1L871.6 256.9L872.1 254.6L872.6 248.6L872.9 242.8L873.4 219.5L874.1 144.9L874.4 136.9L875.1 207.7L875.6 238.1L875.9 245.4L876.4 252.5L876.9 255L877.7 256.5L877.9 256.9L878.4 257.1L878.9 256.9L879.4 256.1L880.2 253.2L880.7 247.8L880.9 242.1L881.5 219.5L882.2 161.2L882.5 159.1L883.2 215.1L883.7 238.9L884 245.3L884.5 252.3L885 255L885.5 256.2L885.8 256.1L886.5 255.2L887 255.1L887.3 254.9L887.8 253.4L888.3 250.5L888.8 244.1L889.3 230.1L890.3 174.9L890.6 176.3L891.6 232.2L891.8 240.3L892.3 249.6L892.6 251.6L892.8 252.5L894.4 254.7L894.6 254.7L894.9 254.5L895.4 253.6L896.1 250.7L896.6 245.7L897.1 234.2L898.4 171L898.7 174.9L899.7 230L900.2 243.2L900.7 248.9L900.9 250L901.7 251.6L902.5 254.4L902.7 254.7L903.5 253.6L904 251.8L904.5 248.6L904.7 245.9L905.2 236.6L906.2 200.6L906.5 196.8L906.8 200.7L907.5 229.4L908 241.5L908.5 247.3L909 250.4L909.5 252.1L910 253.2L910.5 253.9L910.8 253.9L911.1 253.6L912.1 251.2L912.6 248.7L912.8 246.5L913.3 239L914.3 214.3L914.6 212.8L914.8 216.3L915.6 235.9L916.1 244.1L916.4 246.5L916.9 249.2L917.1 250L917.9 251.4L918.6 253.8L918.9 253.9L919.9 250.6L920.4 250L920.7 249.2L920.9 247.7L921.4 241.5L922.2 226.7L922.4 223.2L922.7 222.9L923.7 239.7L924.2 246L925 250.7L925.5 251.8L926 252.3L926.5 252L927.5 251L928.3 249.9L928.8 248.3L929.3 243.7L930.3 229.5L930.5 227.7L930.8 228.5L931.8 242.8L932.3 247.6L932.6 249L933.3 251.2L933.8 252.1L934.8 253L935.1 253L936.3 250.7L936.9 249.3L937.6 244.4L938.4 235.8L938.6 234.1L938.9 234.1L940.1 244.3L940.6 246.9L941.4 249.7L941.9 251.5L942.2 251.8L942.9 251L943.2 250.9L943.9 252.3L944.2 252.2L944.4 251.4L945.5 247.1L946.5 240.6L946.7 239.6L947 239.7L947.2 240.9L948 246.6L948.5 248.7L950 251L950.3 251L951 250.1L951.3 250.2L952 252.1L952.3 252.3L952.8 251.3L953.3 249.5L954.1 243.8L954.3 242.3L954.6 241.6L954.8 241.7L956.8 250.5L957.3 251.8L958.4 251.4L959.1 251.9L959.4 251.9L960.6 250.2L961.6 248L962.1 246.5L962.7 244L962.9 243.2L963.2 242.9L963.4 243.7L964.4 250.7L964.7 250.8L965.2 250.5L965.4 250.5L966.2 251.8L966.4 251.9L967.2 250.9L967.5 250.7L968.2 251.2L968.5 251.2L968.7 250.9L969.5 249.5L970.5 246.9L970.7 246.7L971 247L972 249.7L973.3 252.4L973.5 252.6L974.3 251.9L974.5 251.9L975.3 253L975.6 252.9L976.3 250.2L976.6 249.8L977.3 251.3L977.6 251.2L978.8 246.5L979.1 246.1L979.3 246L979.6 246.5L980.4 250.2L980.6 250.9L981.6 251L982.6 252.4L984.4 253.1L984.7 253L984.9 252.6L986.9 248.8L987.2 248.6L987.4 248.6L987.7 249.2L988.5 252.7L988.7 253.3L989.7 253.2L990.5 253.6L990.7 253.6L992.5 251.9L992.8 251.9L993.5 252.3L993.8 252L994.8 249.2L995 249.2L995.3 249.5L995.8 250.3L996.8 250.7L997.8 251.8L998.6 253.2L998.8 253.5L1001.6 252.4L1002.6 249.7L1002.9 249.2L1003.1 249.2L1003.6 249.7L1004.9 252.6L1005.7 253.8L1005.9 254L1006.9 253.3L1007.9 253.1L1008.7 252.7L1010 250L1011.2 250.2L1012 250.8L1012.7 251.1L1013 251.5L1013.7 253.9L1014 254.2L1015 252.7L1015.8 252L1016 252L1016.8 252.5L1017 252.5L1018.6 250.6L1019.6 249.9L1019.8 249.9L1020.1 250.4L1020.8 253.3L1021.1 253.8L1022.1 253.5L1023.1 253.4L1023.9 253.6L1024.1 253.7L1024.9 254.9L1025.1 254.8L1026.1 251.8L1026.9 250.9L1027.2 251L1028.2 253.5L1029.7 254.6L1030.2 254.8L1030.9 254.7L1031.2 254.9L1032 256.2L1032.2 256.3L1033.2 254.9L1034.2 252.7L1035 251.9L1035.5 251.8L1036 252L1037.3 253L1038.3 253.5L1039.3 255L1040.3 254.9L1041.1 255.1L1041.3 254.9L1042.3 252.9L1043.1 252.4L1043.3 252.5L1044.4 254.4L1045.1 255.3L1045.4 255.3L1046.1 254.1L1046.4 254L1048.1 256.6L1048.4 256.6L1049.4 254.4L1050.2 254.8L1050.4 254.7L1052.2 253.8L1052.4 253.9L1053.2 254.8L1054.2 256.6L1054.5 256.8L1056.2 256.2L1056.7 255.8L1057.5 255L1058.5 253.4L1059 253.3L1059.5 253.5L1061.6 255.9L1062.8 256L1064.6 256L1067.1 254L1067.6 253.9L1068.4 254.5L1069.4 256.2L1069.6 256.4L1070.7 255.4L1071.4 255.6L1071.7 255.7L1072.7 257.1L1073.4 257.4L1073.7 257.1L1074.7 254.1L1075.2 253.4L1075.7 253.1L1076.5 253.9L1077.5 255.2L1078.8 258.4L1079.5 258.5L1079.8 258.4L1080.8 256.7L1081.5 256.4L1082.6 255L1082.8 254.8L1083.8 256.1L1084.8 256.4L1086.6 258.2L1086.9 258.2L1087.9 257.1L1088.9 257.4L1090.6 256.5L1091.7 254.7L1091.9 254.8L1092.7 257.6L1092.9 258L1093.7 257.3L1093.9 257.2L1094.7 258.3L1094.9 258.4L1096 257.2L1097 257L1098 256.2L1099.8 255.4L1100 255.5L1101 257L1101.8 256.8L1102 256.9L1102.8 258.7L1103 258.8L1104.1 256.8L1105.1 257.2L1105.8 258.4L1106.1 258.4L1107.1 256.8L1107.8 256.5L1108.1 256.5L1108.9 257.3L1109.1 257.3L1109.9 256.5L1110.1 256.5L1111.1 258.7L1112.9 258.7L1113.2 258.4L1113.9 256.4L1114.2 256L1115.2 256.6L1115.9 256.6L1116.2 256.7L1118 258.8L1118.2 258.9L1119 258.4L1119.2 258.4L1120 259L1120.2 259L1121.3 258L1122.3 257.7L1123.3 256.8L1124.3 257.2L1125.3 256.9L1126.3 257.6L1127.3 258.9L1128.1 260.1L1128.3 260.1L1129.3 257.8L1130.1 257.3L1130.4 257.3L1131.1 258L1131.4 258L1132.4 256.8L1133.1 256.5L1133.4 256.6L1134.4 258L1135.2 257.8L1135.4 257.9L1136.2 258.9L1136.4 259L1137.4 258.2L1138.5 258.6L1139.2 259.1L1139.5 259.1L1140.5 258.1L1141.2 258L1142.5 258.5L1143.5 258.6L1144.5 259.3L1145.3 259.5L1145.5 259.4L1147.3 257.6L1147.6 257.5L1148.6 258.3L1149.6 258.8L1150.3 259L1150.6 258.9L1151.4 258.2L1151.6 258.2L1152.4 259.4L1152.6 259.6L1153.4 259.1L1153.6 259.1L1154.6 259.5L1155.4 259L1155.7 259L1156.4 259.6L1156.7 259.7L1157.7 258.9L1158.4 258.6L1158.7 258.7L1159.4 259.7L1159.7 259.8L1160.7 258.7L1162.5 259L1163.5 260.3L1163.7 260.3L1164.8 258.9L1165.8 258.6L1166.5 258.6L1167.8 259.4L1169.6 259.8L1171.6 259.2L1171.8 259.3L1172.9 260.2L1173.6 260.3L1174.9 259.5L1175.9 259.9L1176.9 259.6L1177.9 259L1179.7 259.9L1179.9 259.9L1180.7 259.1L1180.9 259.1L1182 260.2L1183.7 260.2L1184.7 260.1L1186 260.6L1186.8 260.6L1187 260.4L1187.8 258.5L1188 258.2L1189 258.8L1189.8 259.1L1191.8 259.5L1192.8 260.3L1193.1 260.4L1194.1 259.7L1195.1 259.8L1196.1 259.8L1197.9 260.2L1199.2 261.4L1200.9 260.8L1202.2 260.1L1203.2 260.5L1205 260.5L1205.2 260.3L1206 259L1206.2 258.9L1207 259.8L1207.3 260L1208 259.4L1208.3 259.4L1209.3 260.5L1210.3 260.2L1211.3 260.6L1212.3 260.5L1213.3 260.3L1214.1 260.7L1214.3 260.6L1215.3 258.7L1216.4 259L1217.1 259.4L1218.1 261.3L1218.4 261.5L1219.4 260.6L1220.2 259.6L1220.4 259.6L1221.2 261L1221.4 261.2L1222.2 260L1222.4 259.9L1223.4 260.9L1224.2 261.1L1224.5 261L1225.2 259.8L1225.5 259.7L1226.5 260.8L1227.2 260.8L1228.2 260.3L1229.3 259.5L1229.5 259.5L1230.3 261.1L1230.5 261.2L1231.5 260.1L1233.3 260.6L1234.6 259.9L1235.6 260.7L1236.3 260.9L1236.6 260.9L1237.6 260.5L1241.4 260.4L1241.7 260.5L1242.4 261.6L1242.7 261.7L1243.4 260.5L1243.7 260.3L1244.7 260.9L1246.5 261L1247.5 260.7L1248.7 259.8L1250.5 260.1L1251.8 260.6L1252.5 260.4L1252.8 260.7L1253.5 262.7L1253.8 262.8L1254.6 260.7L1254.8 260.4L1255.6 260.9L1255.8 261L1256.6 260.3L1256.8 260.2L1257.8 261.2L1258.6 261.4L1258.9 261.3L1259.9 260.5L1261.6 260.7L1262.9 260.4L1263.7 260.9L1263.9 261L1265.7 259.4L1265.9 259.3L1267.7 260.9L1268.7 262.1L1269 262.1L1270 261L1270.7 260.6L1271 260.7L1271.8 261.8L1272 261.9L1272.8 261.1L1273 261.1L1273.8 262.5L1274 262.7L1275 261.9L1275.8 262.1L1276.1 261.9L1276.8 260.9L1277.1 260.7L1278.1 261.5L1278.8 261.5L1279.9 261L1280.1 261L1280.9 262.2L1281.1 262.3L1282.1 261.1L1282.9 260.3L1283.1 260.2L1284.2 261L1284.9 261.9L1285.2 262L1286.2 261.3L1286.9 261L1287.2 261.1L1287.9 262.1L1288.2 262.2L1289.2 261.4L1290.2 260.9L1291 259.8L1291.2 259.7L1292.2 261.1L1293.3 260.9L1294.3 260.9L1295 260.5L1295.3 260.5L1296.3 261.4L1297.3 261.6L1298.3 261.5L1299.1 260.7L1299.3 260.6L1300.3 261.4L1301.1 261.6L1301.4 261.5L1302.1 260.6L1302.4 260.6L1303.1 261.5L1303.4 261.6L1304.1 260.9L1304.4 260.8L1305.4 261.8L1306.2 262L1308.2 261.1L1308.4 261.3L1309.2 262.6L1309.4 262.8L1310.2 262.1L1310.5 262L1311.5 262.8L1312.5 262.9L1314.3 262.6L1315.5 261.3L1316.3 261.1L1316.5 261.1L1317.3 261.5L1318.3 262.6L1318.6 262.7L1319.6 261.4L1320.3 261.1L1320.6 261.2L1321.3 262L1322.3 263.9L1322.6 264L1323.6 262.2L1324.6 262.1L1325.6 261.7L1327.4 262.7L1327.7 262.7L1328.4 261.6L1328.7 261.4L1329.7 262.2L1330.7 263.2L1331.5 263.7L1331.7 263.8L1332.7 263L1333.7 262.7L1334.5 261.9L1334.7 261.8L1335.8 262.9L1337.5 262.5L1338.8 262.6L1339.8 261.9L1340.8 261.9L1341.8 262.2L1342.6 263.2L1342.8 263.3L1343.8 262.6L1344.6 262.8L1344.9 262.7L1345.9 261.5L1346.9 261.9L1347.6 262.8L1347.9 262.9L1348.7 262.5L1348.9 262.5L1349.7 263.7L1349.9 263.9L1351.9 262.1L1353 262.4L1354 263L1355.7 262.1L1356 262.2L1357 263.1"/>
<path class="c" stroke="#4682b4" stroke-width="3.10" d="M850.6 11L851.6 11L851.9 268.4L852.1 268.3L853.1 268.5L853.9 268.4L854.6 268.7L856.2 268.6L859.7 268.7L861 268L862.7 267.8L863.2 267.4L863.7 265.6L864 262.2L864.5 249.6L865 264L865.5 267.1L866 268.3L866.3 268.6L867.3 267.8L869.1 267.5L870.3 266.7L871.3 267L872.9 266.1L873.6 265.4L874.1 264.6L874.6 263.1L875.6 256.6L876.1 250.5L876.4 245.4L876.9 219.5L877.9 44.2L878.7 194.8L878.9 223.2L879.4 246.8L879.9 256L880.2 258.6L880.7 261.4L881.5 263.5L882.2 264.8L883.2 265.9L883.5 266L884.2 265.8L884.5 265.9L885.2 267.1L885.5 267.3L886.5 267L887.5 267L889.8 265.9L890.3 264.8L891.3 259.4L891.6 259.7L892.3 263.3L892.8 264.9L893.1 265.4L894.4 267L894.6 267.1L895.6 265.9L896.4 265.6L896.6 265.5L897.4 265.9L897.6 265.9L897.9 265.7L898.4 265.2L898.9 264.4L900.2 261.7L901.2 258.1L901.9 253.9L902.5 249L902.7 244.5L903.2 228.1L904.5 142.7L904.7 133.6L905 137.4L905.2 152.2L906.2 222.6L907 247.1L907.8 255.8L908.3 258.5L908.8 260.4L909.5 262.2L910.5 263.8L911.3 264.4L913.1 265.2L913.6 265.3L913.8 265.2L914.8 263.9L915.4 263.6L916.4 262.5L916.9 261.4L917.9 258.1L918.1 257.9L918.4 258.2L918.9 259.7L919.7 261L920.4 263.2L920.9 264.1L922.7 264.7L922.9 264.6L923.7 263.6L924 263.5L925 264.3L925.7 264L926.2 262.9L927.7 257.5L928.5 251.8L929.3 239.8L930 221.1L931.3 179.9L931.5 175.8L931.8 175.7L932.3 186.8L933.6 229.1L934.3 244.2L934.8 251L935.3 255L936.1 258L936.9 259.4L938.1 260.7L938.9 262.4L939.1 262.8L941.2 262.5L941.9 262.8L942.2 262.6L943.2 260.3L943.9 260.3L944.2 259.9L944.9 257L945.2 256.6L946.2 258.5L947.2 259.4L948 260.9L948.2 261.2L949.2 261.3L950 262L950.3 262L952 258.6L952.3 258.4L953 259.2L953.3 258.7L954.3 250.4L954.8 249.5L955.1 248.5L955.3 246L956.6 222.9L957.8 194.1L958.4 186.8L958.6 186.3L958.9 187.8L959.1 191.1L960.9 229.5L961.9 241.9L962.9 250.9L963.4 253.9L964.4 257.1L965.4 258.3L966.2 259.6L966.4 259.7L967.2 258.7L967.5 258.8L968.2 260.5L968.5 260.6L969.5 259.3L970.2 259.8L970.5 259.7L971.3 259L971.5 258.9L972.3 259.4L972.5 259.3L973.3 257.6L973.5 257.6L974.3 259.8L974.5 260L975.3 258.5L975.6 258.3L976.6 259.5L977.3 259.6L977.6 259.4L978.6 258.3L979.3 258.2L979.6 258L980.1 257.2L981.4 253.8L982.1 250.3L983.4 242.5L984.9 228.8L985.4 226.5L985.7 226.6L986.2 229.6L987.7 243.6L988.2 246L989.5 249.9L990.5 256.7L990.7 257.6L991.5 257.3L991.7 257.4L993.5 260.3L993.8 260.3L994.8 258.3L995.5 258.5L995.8 258.4L996.8 257.6L997.6 258.1L997.8 258L998.6 257L998.8 256.9L999.8 258.2L1000.8 258.4L1002.6 259.2L1002.9 259L1003.6 256.5L1003.9 256.1L1004.6 257.5L1004.9 257.6L1005.9 255.6L1006.7 255L1007.4 253.9L1008.4 251.5L1008.9 249.6L1010 242.8L1011.2 237.3L1012 235.1L1012.2 234.7L1012.5 234.7L1013.2 235.7L1014 237.9L1016.3 250.2L1017 253.4L1017.8 255.6L1018 255.8L1018.8 254.3L1019.1 254.2L1020.1 255.1L1021.1 256.5L1022.1 256.7L1023.1 256.5L1023.9 256.7L1024.1 256.7L1024.9 256.1L1025.1 256.3L1025.9 258.5L1026.1 258.6L1026.9 256.4L1027.2 256.3L1027.9 258.7L1028.2 258.9L1029.2 256L1029.9 256.1L1030.2 256.1L1032 254.1L1033 252.7L1033.2 252.7L1034 254.9L1034.2 255.3L1035 254.7L1035.2 253.9L1036.3 246.9L1037 247.5L1037.3 247.1L1038.3 242.7L1039 240.3L1039.3 240.4L1040.3 245.9L1041.1 248.7L1041.3 249.2L1042.1 248L1042.3 248.1L1043.6 251.8L1045.4 255.1L1046.4 257.7L1047.1 258.6L1047.4 258.6L1048.1 257.6L1048.4 257.6L1049.4 258.9L1050.2 259.2L1050.4 259L1051.2 257.4L1051.4 257.2L1052.2 258.1L1052.4 258.2L1053.2 257L1053.5 257L1054.2 258.5L1054.5 258.7L1055.2 258.2L1055.5 258.1L1056.5 258.4L1057.3 258L1058.5 256.3L1059.3 256.6L1059.5 256.4L1060.5 254.3L1061.3 253.5L1061.6 252.9L1062.3 249.6L1062.6 249.4L1063.3 253L1063.6 253.2L1064.6 247.4L1065.6 248.1L1066.4 247.7L1066.6 248.1L1067.4 251.4L1067.6 251.9L1068.6 250.7L1069.4 250.8L1069.6 251.2L1070.4 253.8L1070.9 254.7L1072.4 256.3L1072.7 256.3L1073.4 255.3L1073.7 255.3L1075.5 259.6L1075.7 259.9L1076.5 258.8L1076.7 258.7L1077.7 260L1078.5 261.6L1078.8 261.5L1079.8 258.1L1080.5 256.2L1080.8 255.9L1081.5 256.5L1081.8 256.9L1082.6 258.9L1082.8 259.2L1083.6 258.7L1083.8 258.4L1084.8 255.9L1086.6 256.2L1086.9 256.2L1087.9 255.2L1088.6 254.3L1089.9 251.9L1091.7 250.5L1091.9 250.7L1092.7 252.5L1092.9 252.6L1093.7 250.4L1093.9 250.3L1094.7 252.3L1094.9 252.5L1095.7 250.9L1096 251.2L1096.7 255.1L1097 255.8L1097.7 255.7L1098.7 255.9L1099 256.1L1099.8 257.6L1100 257.5L1100.8 255L1101 254.6L1101.8 255.3L1102 255.8L1102.8 258L1103 258.2L1103.8 256.8L1104.1 256.7L1104.8 257.4L1105.1 258L1105.8 260.8L1106.1 261L1107.1 257.9L1108.1 257.4L1109.1 257.7L1110.1 258.5L1110.6 258.2L1111.9 257.2L1113.2 255.5L1113.9 255.8L1114.2 255.7L1114.9 254.9L1115.9 252.7L1116.2 252.6L1117 254.7L1117.2 255L1118 254.2L1118.2 254.2L1119 255.5L1119.2 255.1L1120 250.6L1120.2 249.9L1121.3 251.8L1122.3 253L1123.3 253.8L1124.3 255.3L1125.3 255.9L1127.1 257.2L1127.3 257.3L1128.1 257.2L1129.3 256.5L1131.4 257.6L1132.4 258.7L1133.1 258.9L1133.4 258.7L1134.2 256.8L1134.4 256.5L1135.4 257.2L1136.4 258.5L1137.4 258.5L1138.2 258.9L1138.5 258.8L1139.5 257.3L1140.2 256.5L1140.5 256.4L1141.5 257.1L1143.3 256.1L1144.3 255.2L1144.5 255.3L1145.3 257.2L1145.5 257.3L1146.3 255.3L1146.5 255L1147.3 255.5L1147.6 255.4L1148.3 254.2L1148.6 254.3L1149.3 256.3L1149.6 256.5L1150.6 255L1151.4 255L1151.6 255.2L1152.6 257.6L1153.4 258.5L1153.6 258.5L1154.6 257.3L1155.4 257.3L1155.7 257.5L1156.4 258.6L1156.7 258.7L1157.4 258.2L1158.4 256.5L1158.7 256.5L1159.7 259L1160.7 259L1161.7 259.3L1162.7 258.9L1163.7 259.6L1164.5 259.7L1164.8 259.4L1165.5 256.8L1165.8 256.5L1166.5 258.6L1166.8 258.8L1167.8 256.5L1168.6 255.6L1168.8 255.5L1169.8 256.3L1170.6 255.9L1170.8 255.6L1171.6 253.8L1171.8 253.7L1172.9 256.6L1173.9 257.5L1174.6 257.6L1174.9 257.4L1176.4 255.3L1176.6 254.9L1176.9 254.9L1177.9 256.2L1178.9 258.4L1179.9 259.1L1180.9 259L1182 258.3L1183 258.6L1183.7 259L1184 259.1L1184.7 258.4L1185 258.4L1186 259.6L1187 259.4L1187.8 258.6L1188 258.5L1189 259.2L1189.8 259L1190.1 258.7L1190.8 257.3L1191.1 257.1L1192.1 257.8L1192.8 258L1193.1 258.3L1193.8 260L1194.1 260.1L1194.9 257.9L1195.1 257.7L1196.1 259.8L1196.9 259.5L1197.1 259.1L1198.1 256L1199.2 256.2L1200.2 257.5L1200.9 259L1201.2 259.1L1201.9 257.7L1202.2 257.5L1203 258L1203.2 258L1204.2 256.9L1205 255.7L1205.2 255.6L1207 259.1L1207.3 259.3L1207.8 259.6L1208.3 259.6L1209 258.8L1209.3 258.6L1211 259.6L1212.3 259.6L1213.1 260.2L1213.3 260.1L1214.3 258.4L1215.3 257.7L1216.1 257.7L1216.4 258L1217.1 260.1L1217.4 260.4L1218.4 259.1L1220.4 259.1L1221.2 258.9L1221.4 259L1222.4 260L1223.2 259.8L1223.4 259.5L1224.2 257.4L1224.5 257.1L1225.2 258L1225.5 258.1L1226.5 257.2L1227.2 257.4L1227.5 257.6L1228.2 259.3L1228.5 259.6L1229.5 259.1L1230.3 257.9L1230.5 257.7L1231.3 258L1232.3 259.2L1232.5 259.2L1233.3 257.9L1233.6 257.8L1235.3 260.7L1235.6 260.9L1236.3 261L1236.6 260.8L1237.6 258.9L1238.4 259.1L1238.6 259.3L1239.4 261L1239.6 261L1240.6 258.6L1241.7 258.9L1242.4 258.6L1242.7 258.7L1243.7 260.2L1244.7 259.9L1245.5 260.3L1245.7 260.1L1246.5 257.7L1246.7 257.4L1247.5 259.3L1247.7 259.5L1248.5 258.1L1248.7 258L1249.5 259.5L1249.8 259.8L1250.5 259.3L1250.8 259.3L1251.5 260.1L1251.8 260.2L1252.8 259.1L1253.5 257.7L1253.8 257.8L1254.6 259.9L1254.8 260.1L1255.6 257.9L1255.8 257.6L1256.6 258.3L1257.6 260.1L1257.8 260.2L1258.6 259.3L1258.9 259.1L1259.6 259.7L1259.9 259.7L1260.6 259.2L1260.9 259.2L1262.7 260.9L1262.9 261L1263.9 260.6L1265.7 261.4L1265.9 261.3L1267 260.3L1267.7 259.8L1268 260L1268.7 262L1269 262.3L1269.7 260.8L1270 260.6L1270.7 261.6L1271 261.7L1271.8 261.2L1272.8 259.9L1273 259.8L1273.8 260.7L1274 260.7L1274.8 259.1L1275 258.9L1275.8 260.3L1276.1 260.6L1277.1 260.1L1278.1 260.7L1278.8 260.8L1279.1 260.7L1280.1 259.8L1280.9 260.1L1281.1 260L1281.9 258.7L1282.1 258.7L1283.1 260.2L1284.2 260.6L1285.2 260.5L1286.9 259.6L1287.2 259.7L1287.9 261L1288.2 261.2L1289 260.5L1289.2 260.5L1290 261.3L1290.2 261.4L1291 260.3L1291.2 260.2L1292.2 261.8L1293 262.6L1293.3 262.6L1294.3 260.7L1295 260.2L1295.3 260.3L1296.3 261.9L1297.3 261.8L1298.1 261.1L1298.3 261.1L1299.1 262.4L1299.3 262.4L1300.1 261L1300.3 260.7L1302.1 261.5L1302.4 261.4L1303.1 260.6L1303.4 260.6L1304.1 261.3L1304.4 261.3L1305.1 260.8L1305.4 260.8L1306.4 261.3L1307.2 260.8L1307.4 260.8L1308.2 261.6L1308.4 261.5L1309.2 259.7L1309.4 259.5L1310.2 261L1310.5 261.2L1311.5 260.7L1312.2 260.5L1313.5 261.1L1314.3 261.2L1314.5 261L1315.3 259.5L1315.5 259.4L1316.5 261.8L1317.3 262.5L1317.5 262.6L1318.6 262.6L1319.3 262.9L1319.6 262.8L1320.3 261.3L1320.6 261.1L1322.3 261.9L1323.4 262.6L1323.6 262.6L1324.6 261.3L1325.4 259.9L1325.6 259.9L1326.4 262.6L1326.6 263L1327.4 261.6L1327.7 261.3L1328.4 261.7L1328.7 261.6L1329.4 260.2L1329.7 260.1L1330.4 261.9L1330.7 262.2L1331.7 261.7L1332.7 262.4L1333.5 262.4L1333.7 262.1L1334.5 259.8L1334.7 259.5L1335.8 261.3L1336.8 261.8L1337.8 262L1338.5 262.7L1338.8 262.7L1339.8 261.5L1340.8 261.3L1341.8 261.6L1342.6 261.3L1342.8 261.4L1343.6 263L1343.8 263.1L1344.9 261.8L1345.6 262L1345.9 261.9L1346.9 260.7L1347.6 260.4L1347.9 260.5L1348.9 262.3L1349.7 262.6L1349.9 262.5L1350.7 261.7L1350.9 261.6L1352.7 262.5L1353 262.5L1353.7 261.3L1354 261.1L1355 261.7L1356 261.7L1357 261.5"/>
<path class="c" stroke="#191970" stroke-width="3.10" d="M850.6 11L851.6 11L851.9 268.6L854.9 268.7L856.2 268.6L857.2 268.7L858.2 268.2L860 268.1L861.2 268.5L863 268.6L864.3 268.1L865.3 268.4L866 267.8L866.3 267.8L867 268.7L867.3 268.7L868.3 268.2L870.3 268.2L871.3 268L872.1 267.7L872.3 267.7L873.4 268.1L874.4 267.9L876.4 268.4L877.4 268.2L878.4 267.6L880.2 267.6L880.4 267.5L880.9 266.7L881.5 265.5L882.7 260.1L883 260.2L884.2 265.5L885 267.1L885.5 267.6L887.5 267.8L889.3 267.3L890.6 267.6L892.3 267.3L893.6 267.5L894.6 267.1L895.6 267.2L896.6 266.6L898.7 267L899.7 266.7L900.4 266.2L900.7 266.1L901.4 266.5L901.7 266.5L902.7 265.6L903.7 265.7L904.7 265.5L906.5 263.4L907.8 262.4L909.3 259L910 256L911.1 247.8L911.6 241.1L912.1 230.2L912.8 202.2L914.1 128.7L914.3 119.1L914.6 116L914.8 120.4L915.1 131.1L916.6 215.4L917.4 238.1L918.1 249.8L918.6 253.7L919.1 256.4L920.2 259.7L920.9 261.3L922.7 263.5L924 264.7L925 265L926 264.8L927 265.6L928 266.1L929.8 266.4L931 266.2L931.8 266.3L932.8 267.1L933.1 267.1L933.8 266.1L934.1 265.9L935.1 266.5L935.8 266.7L936.1 266.7L936.9 266.1L937.1 266.1L938.1 267L939.1 266.8L940.1 266.3L941.2 266.4L942.4 266L943.2 265.6L944.9 264.2L945.7 264L946.5 264.1L947.2 264.6L948 264.7L949.2 266.1L950.3 265.9L951.3 266.3L952.3 266L953 266L955.3 266.4L956.3 266.1L957.3 266L958.1 265.8L959.1 265.9L960.4 265L961.4 265.5L962.4 265.6L964.2 264.6L965.4 263.3L967.2 263.5L967.5 263.3L968.5 262.1L970 261.2L970.5 260.6L971.8 256.7L973 251.5L973.5 248.5L974 243.8L975.3 226.8L977.3 188.4L977.8 182.9L978.1 182L978.3 182.4L978.6 184.1L979.1 190.6L980.6 220.4L981.6 236.4L983.4 252.1L983.9 254.4L985.7 259.7L987.7 261.7L988.7 262.5L989.5 263.5L989.7 263.7L990.5 263.2L990.7 263.2L991.7 264.1L992.8 264.7L994.8 264.5L995.8 265L996.5 265.2L999.8 265L1000.8 265.2L1001.9 265.6L1003.6 265L1004.9 265.4L1005.9 265L1006.9 265.5L1007.9 265L1010 264.4L1011.7 264.8L1013 264.6L1013.7 264.8L1014 264.7L1014.8 264.1L1015 264.1L1015.8 265L1016 265.1L1018 264L1019.6 264.2L1021.1 263.9L1022.1 264.4L1023.9 263.9L1025.1 263L1025.9 263.2L1026.1 263.1L1027.2 262.2L1028.2 262.2L1029.9 261.7L1031.2 260.5L1032 260.4L1032.2 260.2L1035 253.8L1035.8 250.6L1038 236.3L1040.3 214.8L1041.1 210.3L1041.6 209L1041.8 209L1042.1 209.5L1042.8 213.1L1046.4 243.6L1047.4 250.3L1048.1 253.4L1050.2 258.2L1050.4 258.6L1051.4 258.9L1052.2 259.7L1053.2 261.3L1053.5 261.5L1054.5 261.5L1055.5 262.3L1056.2 262.5L1057.3 262.7L1058.3 262.7L1058.5 262.8L1059.3 263.7L1059.5 263.8L1060.5 263.3L1061.6 263.1L1062.6 263.4L1063.6 263.3L1064.6 264L1066.4 263.4L1066.6 263.4L1067.6 264.1L1068.4 264.1L1069.6 263.4L1070.7 263.9L1071.4 264.1L1071.7 264.1L1072.4 263.5L1072.7 263.4L1073.7 264.3L1074.7 263.8L1075.7 264.1L1076.5 263.9L1076.7 264L1077.5 264.6L1077.7 264.7L1078.8 264L1079.8 264.1L1080.8 264L1081.8 264L1082.8 263.7L1084.6 263.5L1085.8 264L1086.9 263.7L1087.9 263.6L1088.9 263.1L1089.6 263.5L1089.9 263.5L1090.9 262.8L1091.9 263.3L1092.9 263L1094.9 261.6L1096 261.8L1097 261L1098.7 258.6L1099.8 257.7L1100 257.4L1102.3 252.4L1103 250.1L1104.1 246.2L1105.8 242.1L1106.3 241.5L1106.8 241.4L1107.6 241.7L1108.9 243.2L1110.1 248.6L1111.9 252.9L1113.2 255L1114.2 257.6L1115.9 259.2L1117.2 260.9L1118.2 261.7L1121 263L1122.3 262.8L1124 263L1126.3 264L1127.3 263.6L1129.3 264.1L1131.4 264.1L1133.1 263.9L1134.4 264.2L1135.4 264.2L1136.4 264.1L1137.4 264.3L1139.5 264.1L1140.5 263.9L1141.5 264.1L1142.5 263.4L1144.5 263.8L1145.5 263.8L1146.5 263.5L1147.6 264L1148.6 263.7L1149.6 263.5L1151.4 262.9L1153.4 263.7L1156.4 262.4L1157.7 262.3L1159.4 260.7L1159.7 260.6L1160.5 260.7L1160.7 260.6L1161.7 259.1L1162.7 258.1L1163.7 256.7L1165.5 253.3L1167.8 249.8L1168.6 249.2L1168.8 249.1L1169.8 249.2L1170.3 248.7L1170.8 248.5L1171.6 248.8L1172.6 249.8L1174.6 253.3L1175.6 255.5L1175.9 255.9L1176.6 256.1L1176.9 256.3L1177.9 258.1L1179.2 259.4L1179.9 260L1180.9 260.5L1182 261.6L1183 261.8L1184 262.5L1185 262.5L1187 263.5L1189 262.6L1190.1 263.1L1191.8 263.5L1193.1 263.3L1194.1 264L1195.1 263.6L1196.1 264.1L1197.1 263.8L1198.9 264L1200.2 263.7L1201.2 264L1202.2 263.6L1203.2 263.6L1204.2 263.8L1205.2 264.5L1207 263.6L1208.3 263.9L1209.3 263.4L1210.3 263.9L1213.1 263L1214.3 263.4L1215.3 263.2L1216.4 263.5L1217.4 262.8L1219.4 262.7L1220.4 262.2L1221.2 262.1L1222.4 261.1L1223.4 261.2L1229.5 256.2L1231.5 254.3L1232.5 254.8L1233.3 254.4L1233.6 254.4L1234.6 255.1L1235.3 255.1L1236.3 255.3L1238.6 258.2L1239.4 258.6L1240.6 259.1L1243.7 262.2L1244.7 262.4L1245.7 262.2L1247.5 262.3L1248.7 263.1L1249.8 262.9L1250.8 263.4L1252.5 263.7L1253.8 263.4L1254.8 263.7L1255.8 263.4L1256.8 263.3L1257.6 263.4L1258.9 263.9L1259.6 264L1260.9 263.6L1262.7 263.6L1264.9 264.1L1265.9 264L1267 263.5L1267.7 263.4L1269 263.9L1270 264.1L1271 263.8L1272.8 263.8L1273.8 263.9L1275 263.7L1275.8 263.7L1277.1 263.3L1279.1 263.5L1280.9 263.1L1282.1 263.4L1283.1 262.7L1284.2 262.8L1285.2 262.3L1285.9 262L1287.4 261.8L1289 261.1L1290.2 259.8L1291 260.3L1291.2 260.3L1292.2 259.4L1294 258.9L1295.3 258.5L1296.3 258.7L1297.3 259.2L1298.1 259L1298.3 259.1L1299.1 259.9L1299.3 260L1300.3 259.5L1301.4 260.1L1302.4 261.1L1303.4 261.3L1304.4 262L1306.2 262.1L1307.4 262.5L1308.2 262.6L1309.4 263.2L1310.5 263.1L1311.2 263.6L1311.5 263.6L1312.5 263.1L1313.5 263.6L1314.3 263.3L1314.5 263.4L1315.3 264.2L1315.5 264.3L1316.5 263.5L1317.5 264L1318.6 263.7L1319.6 263.9L1320.6 263.8L1322.3 264.4L1324.4 263.4L1324.6 263.4L1325.4 264.1L1325.6 264.2L1326.6 263.6L1328.4 264L1330.4 264.1L1331.5 264.3L1332.7 263.9L1333.7 264.2L1334.7 264.1L1335.8 264.2L1337.8 263.8L1338.8 264L1340.6 263.9L1341.6 264L1342.8 263.5L1343.8 263.7L1344.6 263.2L1344.9 263.2L1345.6 264L1345.9 264.1L1346.9 263.2L1347.9 262.7L1348.9 262.8L1349.9 262.5L1350.7 262.6L1351.9 261.9L1353.7 261.9L1355 261.7L1355.7 261.7L1357 261"/>
</g>
<path class="t" d="M850.50,268.50v11.70M977.50,268.50v11.70M1103.50,268.50v11.70M1230.50,268.50v11.70M1356.70,268.50v11.70M850.50,268.50h-11.60M850.50,176.50h-11.60M850.50,84.50h-11.60"/>
<rect class="s" x="850.50" y="38.50" width="506.20" height="230.00"/>
<g clip-path="url(#clBL)">
<path class="c" stroke="#8b0000" stroke-width="3.10" d="M242.6 380.6L245.9 491.4L246.1 492.6L247.2 494.6L247.7 495.2L247.9 495.3L248.2 495.1L250.4 490.6L250.7 490.3L251.5 490.7L253.2 493.2L256.3 495.6L256.5 495.5L257.5 493L258.3 490.4L260.8 476.6L262.1 473.2L263.1 471.7L264.1 472.9L265.6 476.2L266.9 481.3L268.2 484.2L268.4 484.6L270.7 486.2L270.9 486.5L273.2 491.1L273.5 491.3L274.5 490.1L275.8 489.8L276 490.2L278.5 498.4L279.6 500L280.3 500.9L281.3 499.3L283.6 494.2L284.4 493.8L284.6 493.9L285.9 495.3L286.1 495.4L288.4 494L289.7 493.9L290.9 493.6L291.2 493.3L292.7 490.2L293 490L293.5 490.1L293.7 490.4L294.2 491.6L296.3 497L298.5 502L302.1 508L302.6 508.1L303.6 507.8L304.6 507L305.1 507.2L305.9 508L306.4 508.7L307.7 511.5L308.7 513.2L308.9 513.4L311.5 513L313.5 513L314.2 513.9L316.3 517.2L316.8 517.8L317.3 518.1L320.8 514.9L321.6 514.4L324.1 515.1L326.6 514.9L329.2 517.8L330.7 518.6L334 515.5L336.5 510.8L336.8 510.7L339.3 513.6L340.3 513.8L340.6 513.7L341.6 511.7L343.6 506L344.1 504.9L344.4 504.6L345.4 505.4L346.6 506.7L349.4 511.5L352 515.2L352.5 515.6L354.5 515.3L356.5 515.3L358 516.1L359.3 517.2L361.8 521.6L363.3 523.2L363.9 522.9L364.9 521.9L368.4 518L369.4 518.1L370.2 518.6L372 520L374.5 522.4L374.7 522.5L377 521L377.3 521L379.5 522.6L381.1 523.3L382.1 522.4L384.1 519.8L385.1 518.6L385.4 518.6L386.1 519.3L387.1 520.7L390.2 526.2L391.2 527.7L392 528.5L394.7 528.1L397.5 526.5L399.8 526.4L401.3 525.9L402.6 526.3L405.1 528.5L406.1 528.6L407.6 528L409.9 527.5L412.7 527.6L415.2 526.7L417.8 525.4L419.5 525.2L420.3 525.4L422.8 527L425.4 526.6L430.2 528.2L433 527.4L435.5 528.7L438 528.2L440.6 528L442.3 528.1L448.2 529.1L453 530.2L455.7 531.4L460.6 532.8L463.3 532.7L465.9 533.5L468.4 532.9L470.9 533.8L475.7 532.8L478.3 532.1L481.1 532.7L482.8 531.7L483.6 531.5L486.9 532.8L488.7 533.3L490.9 532.7L494 531.4L496.3 530.9L497.3 531.4L498.3 532.1L500.3 534.2L501.3 534.9L503.8 534.3L506.4 532.1L508.7 531.9L509.9 530.9L511.2 530.5L511.4 530.5L514 532.5L517.3 533.3L520.8 531.7L522.8 531.1L526.4 531.9L529.2 534.2L531.7 535.1L532.5 534.8L534.2 533.6L536.8 532.9L540.3 531.2L541.6 531.1L544.1 531.5L549.2 532.6L551.9 533.7L554.5 533.4L557 533.5L559.5 534L562.1 533.5L564.6 534.5L566.9 535.1L569.4 535.6L572.2 534.7L577 534.2L579.8 534.6L582.3 533.6L583.8 533.4L593.7 534.1L595 533.9L597.5 533.9L599.8 533L600.5 532.9L602.6 533.7L604.9 534.2L610.2 534.9L616.8 536.7L617.8 536.7L620.5 535.5L621.8 535.4L622.8 535.5L625.4 535.2L627.6 535.1L632.2 535.9L635.7 537.2L638.3 537.5L642.8 537.6L645.4 536.7L646.4 536.6L647.9 536.3L651.9 534.8L653.2 534.9L658 536.2L660.8 536.4L663.3 537.1L673.2 536.8L675.7 537L678.5 536.3L681.1 536.8L682.8 536.7L683.6 536.7L686.1 536.1L688.6 536L691.2 535.8L696 536.3L698.5 536.8L700 536.7L701 536.8L705.9 539.1L706.4 539L708.9 538.2L711.4 538.1L714 537.5L716.5 537.5L718.8 537.9L721.3 538.1L724.1 539.8L726.6 540.1L728.9 540.6L736.5 539.4L739 539.6L741.8 540.4L745.6 541L746.9 540.7L749.4 539.5"/>
<path class="c" stroke="#e9876a" stroke-opacity="0.55" stroke-width="3.10" d="M242.6 544.5L243.4 544.4L244.1 544L244.9 543.9L246.1 544.3L246.9 544.4L247.2 544.4L247.7 543.8L248.2 541.5L248.9 532.4L249.2 532.3L249.9 541.5L250.2 542.9L250.4 543.2L251.2 542.5L252 542.6L252.2 542.3L252.7 541.3L253.5 538.8L254 534.2L254.2 526.1L254.5 504.6L254.7 456.7L255.3 287.1L256 287.1L256.5 460.3L256.8 506.2L257 526.7L257.3 534.5L257.5 537.7L257.8 539.4L258.3 541.2L259 542L260.6 542.3L260.8 542.1L261.1 541.3L262.1 531L262.3 531.3L263.1 540.2L263.4 541.9L263.6 542.5L263.9 542.6L265.4 542.3L266.1 541.2L266.6 539.7L266.9 538.1L267.2 534.5L267.4 526.1L267.7 507.4L268.7 330.1L268.9 337.5L269.9 514.9L270.2 529.9L270.4 536.4L270.9 540.4L271.5 541.7L272 542.1L273 542.4L273.5 542.4L273.7 542.3L274 541.8L274.5 539.1L275.3 533L275.5 533.4L276.5 541.6L276.8 542.3L277 542.5L278 542.4L278.8 542L279.3 541.5L279.8 539.8L280.1 537.4L280.3 532.1L280.6 520.8L280.8 499.8L281.6 382.6L281.8 360.6L282.1 370.1L282.8 487.7L283.4 529.6L283.6 536.2L283.9 539L284.1 540.3L285.1 542.3L285.6 542.8L286.1 543.1L286.4 543.2L286.6 543L287.1 541.6L288.2 534.1L288.4 533.1L288.7 533.8L289.4 540.2L289.7 541.5L289.9 542.1L290.2 542.3L291.5 541.9L292 541.6L292.5 540.9L293 538.6L293.2 535.4L293.7 515.5L294.7 395.5L295 381.6L295.3 391.9L296.3 511.8L296.8 534L297.3 539.9L297.8 541.4L298.3 542L299.3 542.5L299.6 542.5L299.8 542.2L300.3 540.5L301.3 533.1L301.6 532.6L301.8 533.4L302.6 539.6L303.1 541.7L303.4 541.9L304.1 541.7L304.9 541.3L305.4 540.9L305.9 539.3L306.1 537L306.6 523.2L306.9 507.1L307.9 397.8L308.2 388.9L308.4 399.8L309.4 508.6L309.7 523.3L310.2 536.6L310.4 539L310.9 541.1L311.5 542L312 542.4L312.5 542.5L312.7 542.4L313.2 541.1L314.2 534L314.5 532.6L314.7 532.2L315 532.9L316 539.8L316.5 541.4L317 541.7L317.8 541.3L318.3 540.5L318.8 538.6L319.3 531.9L319.8 510.1L320.8 396L321.1 372.5L321.3 366.2L321.6 379.6L322.6 498.1L323.1 526.9L323.3 533L323.9 537.8L324.6 539.9L325.1 540.6L325.4 540.7L325.9 540.5L326.4 539.4L327.4 533.6L327.7 532.5L327.9 532.2L328.2 533L329.2 539.2L329.4 539.9L329.9 540.6L330.7 540.9L330.9 540.9L331.2 540.7L331.7 539.1L332.2 535.5L332.7 526.2L333 516.9L334 449.7L334.2 438L334.5 435.9L334.7 444L336 523.8L336.3 531.2L336.8 537.8L337.3 539.9L338 541.5L338.3 541.6L338.5 541.1L339.6 538.6L340.8 533.6L341.1 533.5L341.3 534L342.6 539.4L343.1 540.6L343.3 540.9L343.6 540.8L344.4 540.1L344.9 538.8L345.1 537.5L345.6 532.4L345.9 527.6L346.4 510.9L347.1 476.5L347.4 470.1L347.7 469.8L347.9 475.6L348.9 520.2L349.4 532.7L349.7 535.8L350.2 538.7L350.7 539.8L351.2 540.5L351.4 540.5L352 539.9L352.7 538.1L353.7 534.3L354 533.9L354.2 533.9L354.5 534.4L355.8 538.6L356.3 539.6L356.5 539.8L356.8 539.7L357.8 538.7L358.3 537.1L358.8 532.3L359 528.2L360.3 492.1L360.6 488.4L360.8 488.7L361.1 492.8L362.1 523.2L362.6 533.2L362.8 535.8L363.3 538.4L363.9 539.2L364.4 539.4L364.9 539.3L365.4 538.7L365.9 537.4L366.6 534.6L367.1 533.8L367.4 533.9L367.9 534.9L368.9 537.6L369.2 538.1L369.9 538.6L370.4 538.7L370.9 538.2L371.4 536.3L371.7 534.2L372.2 526.1L373.2 499.2L373.7 491.3L374 491.9L374.2 495.6L375.2 521.4L375.8 530.4L376 533.6L376.5 537.1L376.8 537.8L377.3 538.2L378 538.2L378.5 538L378.8 537.6L379.8 534.5L380.1 534.4L380.3 534.6L381.6 536.9L382.1 537.5L382.8 537.5L383.3 537.8L383.6 537.8L384.1 537.2L384.4 536.4L384.9 532.9L385.1 529.7L386.4 501.2L386.6 496.8L386.9 494.9L387.1 496.1L387.4 499.7L388.7 527.3L389.4 535.8L389.7 537.2L389.9 538L390.2 538.2L392 538.4L393.7 539L394 539L395 538.2L396.3 537.6L396.8 537.1L397.3 536L397.8 533.4L398.5 523.7L399.5 502.8L399.8 499.4L400.1 498.2L400.3 499.4L400.6 502.7L401.6 522.6L402.3 532.6L402.6 534.5L403.1 536.7L403.9 537.8L404.9 538.1L406.1 537.5L407.4 538.2L407.9 538.4L408.2 538.4L409.7 536.9L410.4 535L411.2 529.6L412.7 507.2L413 504.9L413.2 504.2L413.5 505.2L413.7 507.8L415 527.2L415.7 534.1L416 535.3L416.5 536.4L417 536.7L418.3 536.6L420.1 537.8L420.3 537.8L421.1 536.6L421.3 536.4L422.1 537.3L422.3 537.3L422.8 536.3L423.6 534L424.6 527.3L425.9 512.8L426.1 511L426.4 510.5L426.6 511.3L426.9 513.2L427.9 525.1L428.7 531.9L429.4 535.3L429.9 536.5L430.4 537.2L431.2 537.2L432.5 536.5L434.2 536.1L435.7 536L436.3 535.7L436.5 535.3L437 533.9L437.5 531.5L438.8 522.4L439 521.2L439.3 520.6L439.5 520.5L439.8 520.7L440.3 522.7L441.6 532.4L442.3 534.8L442.8 535.6L443.3 536.2L443.6 536.3L444.4 535.9L444.6 536L445.4 537.1L445.6 537.1L446.4 536L446.6 535.8L447.4 536.7L447.6 536.7L448.7 534.9L449.2 535.1L449.4 535L449.7 534.6L450.4 530.8L452 519.4L452.2 518.4L452.5 518L452.7 518L453 518.2L453.5 520.1L454.7 530.7L455.5 533.8L456 535L456.8 536L457.5 536.2L458.5 535.8L458.8 535.8L459.5 536.5L459.8 536.6L460.8 535.9L462.1 535.4L462.6 534.7L463.1 533.5L463.8 530.4L465.1 521.3L465.6 519.3L465.9 519.4L466.1 520.3L466.9 525.7L467.9 530.9L468.4 532.7L469.2 534.4L469.9 535.4L470.7 535.5L471.9 535.4L473 536L474 536.3L474.7 536.7L475 536.4L476.8 530.7L478.3 521.3L478.8 519.4L479 519.5L479.5 521.5L481.1 531.6L481.8 534.1L482.3 535.2L482.8 536L483.1 536L483.8 535.1L484.1 535L485.1 535.5L485.9 535.4L486.1 535.5L486.9 536.3L487.1 536.3L488.2 535.4L488.9 535.3L489.7 534.1L491.4 529.1L491.9 528.3L492.2 528.4L493.2 532L494.2 534.5L495.2 535.6L496 537L496.3 537.2L497.3 536.6L498 536.9L498.3 536.9L499.3 536.2L500.3 536.4L501.6 535.6L502.6 534.5L504.1 531.3L504.4 530.9L504.6 530.8L505.4 531.4L505.6 531.3L506.1 531.6L507.4 534.4L508.4 535.1L509.2 536L509.4 536.2L510.2 536.3L511.4 535.7L512.2 535.5L512.5 535.6L513.2 536.6L513.5 536.7L514.5 535.3L515.2 535.2L515.5 534.9L516.5 531.8L517.5 531.3L518 530.6L518.3 530.5L518.8 530.9L520.6 534.5L521.3 535.3L521.8 535.5L523.3 535.5L524.6 535.2L525.6 535.9L527.4 536.3L528.4 535.9L529.4 535L530.4 532.3L530.9 531.5L532.2 530.8L532.5 530.8L532.7 531.1L533.7 534.2L534.5 535.3L535 535.7L535.7 536L537.8 537.4L538.5 537.6L538.8 537.5L539.8 535.8L540.6 535L540.8 534.9L541.6 535.3L541.8 535.3L542.6 534.5L543.8 532.8L544.6 532.4L545.1 532.5L545.6 532.9L547.1 535.5L548.1 536.4L549.7 537.2L549.9 537.2L550.9 536.6L551.9 536.8L552.7 537.3L553 537.2L554 535.8L554.7 536.1L555 535.9L556 534.4L557.3 534L558 534.1L558.8 533.3L559 533.4L560.6 536.2L561.1 536.8L563.1 537.2L565.1 536.9L565.9 537.5L566.1 537.4L567.1 535.6L568.1 535L569.2 534L570.2 533.7L570.9 533.1L571.2 533.3L572.2 534.9L573 534.9L573.2 535.1L574.2 536.5L575.2 537.2L576.2 537L577.3 536.1L578.3 536.5L580 536.8L580.3 536.7L581.3 535.8L582.3 534.5L583.6 534L584.1 534L584.6 534.3L586.6 536.3L587.4 536.7L588.1 536.8L589.4 536.6L590.4 537.2L591.4 537.4L592.4 536.7L593.2 536.5L594 536.2L595.5 534.6L596 534.6L596.5 534.7L597.5 535.5L598.3 535.7L599.3 535.7L599.5 535.8L601.3 537.8L601.6 537.8L602.6 536.6L603.3 536.7L604.6 538.4L607.4 536.5L608.4 536.4L608.6 536.2L609.7 534.4L610.2 534.4L611.4 534.5L612.7 536.3L613.7 536.9L614.7 537.6L615.7 538L616.5 538.1L617.8 537.3L618.8 537L619.8 537L620.5 537.5L620.8 537.4L621.6 535.9L621.8 535.6L622.6 536.1L622.8 536.2L623.6 535.6L623.8 535.6L624.9 536.3L625.9 536.4L626.9 536.8L627.9 537L628.6 537.4L628.9 537.5L629.9 537L630.9 537.7L631.9 537.8L633 537.5L634 536.3L634.7 536.6L635 536.6L636 535.4L637.8 536.4L638 536.5L638.8 536.2L639 536.3L640 537.5L641.1 537.5L642.8 538.7L643.1 538.6L644.1 537.5L644.9 537.5L645.1 537.4L645.9 536.3L646.1 536.3L646.9 537.2L647.1 537.4L648.4 536.6L650.2 535.9L651.2 536.2L653.2 538L654.2 538.4L655.2 538.3L656.2 538.4L657.3 538.3L658 538.5L658.3 538.4L659 537L659.3 536.8L660.3 537.4L662.1 536.8L663.3 537.2L664.1 536.6L664.3 536.6L665.1 537.1L666.4 538.7L667.4 538.3L669.2 538.1L670.2 537.8L671.4 538L672.2 537.4L672.4 537.4L673.2 538.6L673.5 538.7L674.2 537.5L674.5 537.4L675.5 538.6L676.5 538.4L677.3 537.7L677.5 537.7L679.3 538.5L680.5 538.3L681.6 538.9L682.6 538.4L684.3 538L685.6 538.3L686.4 537.7L686.6 537.6L687.4 538.2L687.6 538.2L688.4 537L688.6 536.9L689.7 537.7L690.4 537.6L690.7 537.7L691.7 538.7L692.7 538.6L693.7 539L694.5 538.6L694.7 538.6L695.7 539.4L696.7 539.2L697.8 538.1L699.8 539.3L701.8 538L703.8 538.8L708.6 539L709.9 539.6L710.9 538.9L711.7 538L711.9 537.9L712.7 538.3L712.9 538.3L713.7 537.6L714 537.5L715 538.2L715.7 538.2L716 538.3L716.7 539.3L717 539.4L718 538.9L720 540L721 539.7L722.1 539.2L723.8 538.7L724.1 538.8L724.8 539.7L725.1 539.7L726.1 538.8L727.1 539.3L727.9 539.4L729.1 538.5L729.9 538.4L730.9 538.6L732.2 540L733.2 539.9L734.2 539.4L735.2 539.5L736 539.1L736.2 539.1L737.3 540.2L738 540.3L738.3 540.2L739.3 538.3L740.3 538.4L742.1 539.4L742.3 539.4L743.3 538.8L745.1 539.2L746.4 539.2L747.4 539.6L748.1 540.3L748.4 540.3L749.1 539.2L749.4 539.1"/>
<path class="c" stroke="#4682b4" stroke-width="3.10" d="M242.6 287.1L243.6 287.1L243.9 544.5L244.4 544.5L245.1 544.2L245.9 544.2L246.6 544.5L247.4 544.5L248.2 543.7L248.9 543.6L249.2 543.7L249.9 544.5L250.2 544.5L251.2 543.7L252.2 544.3L253 544.3L254.2 543.7L255.3 544.1L256.3 544.1L257.3 543.7L259 543.8L260.1 544.5L261.3 544.5L262.3 543.7L263.1 544.2L263.4 544.2L264.1 543.5L264.4 542.8L264.6 540.9L265.1 533.4L265.9 542.7L266.1 543.4L267.2 544.3L267.4 544.2L268.2 543.4L268.4 543.3L269.4 544.2L270.4 543.9L271.5 543.8L272.2 543.3L272.5 543.4L273.2 544.1L273.5 544.2L274.5 543.6L275.5 543.5L277.5 543L278.5 543.1L279.6 542.4L280.6 542.3L282.1 540.7L283.4 538.9L283.6 538.2L284.1 535.6L284.9 529.1L285.4 520.5L285.9 493.5L286.1 461.4L286.9 287.1L287.7 287.1L288.4 469.2L288.9 512.4L289.4 525.5L290.2 534.4L290.4 536.2L290.9 538.3L291.7 539.9L292.7 541L294.7 541.7L295.8 542.4L296.8 542.4L298.8 544.1L299.8 543.8L300.8 543L301.6 543.1L302.8 543.6L303.6 543.1L303.9 543.1L304.6 543.7L304.9 543.8L305.9 542.9L306.6 542.5L307.4 542.3L307.7 542.1L308.2 540.9L308.9 537.7L309.2 537.3L309.4 537.4L309.7 538.2L310.7 541.7L310.9 542.3L311.2 542.4L312 542.5L312.7 543.1L313 543.2L314 542.7L315 543.1L316.8 543.2L318 542.7L318.8 543.3L319 543.3L320.1 542.4L321.1 542.1L321.8 541.7L322.1 541.6L322.8 541.8L323.1 541.7L324.1 540.4L324.9 540.1L325.1 539.8L326.6 536.4L327.4 534.1L327.9 531.9L328.2 529.8L328.7 521.2L329.4 496.4L329.9 465.1L330.9 372.6L331.2 355L331.5 347L331.7 350.8L332 365.2L333.2 476.4L333.7 504.4L334.2 520.6L334.5 524.7L335 529.1L335.5 531.9L337 538.1L337.3 538.8L338 539.8L338.3 540L339.3 540.2L340.3 541.2L341.3 541.8L342.3 541.9L343.1 541.3L343.3 541.3L345.1 542.4L345.4 542.4L346.1 541.7L346.4 541.7L347.4 542.6L348.4 542.9L349.4 542.7L350.4 543L351.4 542.3L353.5 541.4L356.3 542.3L357.5 541.8L358.5 542.6L359.6 542.4L360.3 541.6L360.6 541.5L361.3 542.1L361.6 542.1L362.6 541.4L363.3 541.1L365.4 541.2L366.6 540.1L367.4 539.9L367.7 539.7L368.7 537.8L369.4 536.7L370.2 534.2L371.2 529L372 522.4L372.7 509.3L373.5 484.9L375 416.2L375.5 402.1L375.8 400.1L376 402L376.5 416.1L377.8 473.5L378.5 501.8L379 514.6L379.5 522.8L380.3 529.9L381.1 533.6L381.6 535.2L382.6 537.3L384.4 539.7L384.9 540.2L385.9 540.5L386.9 541.1L388.9 541.4L389.7 541.6L389.9 541.6L390.9 541L392 541.2L393 541.6L393.7 541.6L394.7 541.1L396 540L397 539.5L397.5 539.3L398.3 539.2L399 539.5L400.1 540.3L400.8 540.4L401.1 540.6L401.8 541.8L402.1 541.9L402.8 540.5L403.1 540.3L404.1 541.5L405.1 541.1L406.1 540.2L407.1 540.4L408.2 539.8L409.9 539.9L410.2 539.7L410.9 538.6L412.2 535.4L413 535.1L413.2 534.8L414 532.4L414.5 529.8L415 525.9L416 514.7L417.5 478.8L419 434.6L419.5 424.8L419.8 422.4L420.1 421.8L420.3 423.3L420.8 431.5L423.3 500.4L424.1 514.3L424.9 523.8L425.6 529.3L427.4 535.9L428.2 537.4L428.4 537.6L429.2 537.4L429.4 537.5L431.2 540.1L431.4 540.2L432.2 539.3L432.5 539.2L433.5 540.1L434.5 541.2L435.5 541L437.3 540.3L437.5 540.4L438.5 541.3L440.3 541.3L441.3 540.8L441.6 540.9L442.6 541.7L443.6 541.9L444.6 541.5L445.6 540.6L446.6 540.6L447.6 541.1L448.7 541.3L449.7 540.8L450.4 541L450.7 540.9L451.4 539.9L451.7 539.8L452.5 540.4L452.7 540.5L453.7 539.7L455.5 539.5L455.7 539.2L458.5 532.2L459.3 528.2L461.3 510.7L463.3 489.1L463.8 486.1L464.1 485.5L464.4 485.5L464.9 487.2L465.4 490.7L468.7 524.4L468.9 526.5L469.4 528.7L470.9 534.3L471.7 536.1L472.5 537.4L473.5 538.7L474 539.2L475.7 539.3L477 540.3L477.8 540.5L479 540L479.8 540L481.8 540.8L482.1 540.7L482.8 539.7L483.1 539.7L483.8 540.9L484.1 541.1L485.1 540.4L485.9 540.3L487.1 541.2L488.2 540.5L488.9 540.4L490.2 540.6L491.2 540.5L493.2 541.1L494 541.1L495.2 539.8L497.3 540.2L498 539.5L499.3 539.1L500 538.4L501.3 535.3L502.1 534.3L502.6 532.6L505.1 521.9L507.4 506.2L507.9 505.2L508.1 504.9L508.4 504.9L508.9 505.5L509.9 508.9L510.4 511.5L511.4 518.5L512.5 523.4L513.2 528.7L513.5 529.9L514.5 532.6L515.2 536L515.5 536.5L516.3 536.4L516.5 536.6L517.5 538.8L518.5 539.1L519.5 539.9L521.3 540L522.6 540.5L523.3 540.3L524.4 539.5L524.6 539.5L525.6 540.8L526.6 541.2L527.6 540.9L528.7 541.3L530.7 541.6L531.7 541.1L532.7 540.8L533.5 540L533.7 539.9L534.7 540.8L535.5 540.6L536.5 539.4L536.8 539.4L537.8 541.2L538.5 541.4L538.8 541.4L539.8 540.4L540.8 540L541.8 538.8L542.6 538.3L542.8 538.3L543.6 539L543.8 538.9L545.9 532.9L546.6 531.9L546.9 531.8L547.6 532.9L547.9 532.6L548.9 525.9L549.7 524.5L549.9 523.5L550.9 518.3L551.9 516.3L552.7 514.2L553 514L553.7 515.3L554.7 518.3L556.5 525.8L557.8 530.4L558 531L558.8 531.9L559 532.5L560 536L561.8 538.3L563.1 539.1L563.8 539.9L565.9 540.6L567.1 541.5L567.9 541.8L568.1 541.7L569.2 540.3L570.2 540.4L571.2 541.4L574 540.9L574.2 540.9L575 541.7L575.2 541.8L577.3 540.3L578.3 540L579 539.9L580.3 540.6L582.3 541.2L584.3 539.8L585.4 539.4L586.1 539.6L586.4 539.5L587.4 538.1L588.1 538.3L588.4 538.2L589.4 536L590.4 534.8L591.4 532.4L593.2 529L594.5 525.1L595.2 524.3L596.2 521.8L596.5 521.4L596.8 521.4L597.3 521.5L597.5 521.8L599.3 525.5L599.5 525.8L600.3 525.5L600.5 526L601.6 530.7L602.3 531.4L602.6 531.8L604.6 536.9L606.4 538.2L607.4 539.3L607.6 539.4L608.4 539.1L608.6 539.2L609.7 540.6L610.7 540.4L611.4 541L611.7 541L612.4 540.3L612.7 540.3L613.5 541.5L613.7 541.7L614.5 541.1L614.7 541.1L615.5 541.6L615.7 541.6L616.5 540.3L616.8 540.1L617.8 541.1L619.8 540.2L620.8 540.9L621.8 540.7L622.8 541.3L625.6 540.7L627.9 541.1L628.9 541L630.7 539.6L631.9 539.2L633 537.8L633.7 538L634 537.9L634.5 537.4L636 535.4L638 533.6L639.8 530.5L640 530.3L640.8 530.9L641.8 532.5L642.1 532.6L642.8 531.6L643.1 531.7L644.1 533.8L644.9 533.6L645.1 533.8L646.1 535.3L646.9 536.8L647.1 537.1L647.9 537.1L648.1 537.3L649.9 539.6L650.2 539.7L651.2 539L651.9 538.9L652.2 539.1L653 540.5L653.2 540.7L654 539.9L654.2 539.9L655.2 540.9L657 542.1L657.3 542L658.3 540.5L659 540.4L660 540.8L661.3 541.9L662.3 541.5L663.1 541.1L663.3 541.1L664.1 542L664.3 542.1L665.4 540.9L666.4 541.2L667.4 541L668.4 540.6L669.2 540.7L669.4 540.5L670.2 539.7L670.4 539.7L671.4 541.2L672.2 541.3L672.4 541.2L673.5 540L674.5 539.6L675.2 539.8L675.5 539.7L676.5 538.3L677.5 538L678.3 538.2L678.5 538.1L680.3 535.6L680.5 535.4L681.3 536.1L681.6 536.1L682.6 534.8L683.3 535.1L683.6 534.9L684.3 532.3L684.6 531.8L685.6 532.7L686.4 533L687.4 533.7L688.4 536.6L688.6 536.9L689.4 535.2L689.7 534.9L690.4 535.2L691.7 537.5L692.7 537.7L693.7 538.5L694.5 539.4L694.7 539.6L695.7 539.3L696.7 539.6L697.8 540.5L699.5 540.5L699.8 540.7L700.5 541.8L700.8 541.9L701.8 540.7L703.8 541L704.8 540.9L706.6 541.5L707.9 541.2L708.9 541.5L709.7 541.6L710.9 540.7L711.9 541.3L712.7 541.3L714 540.6L715 540.8L715.7 540.6L717 539.8L717.8 539.7L719 539.9L720 539.1L721 539.1L722.1 538.4L723.1 538.5L724.1 537.7L725.1 537.5L726.1 536.6L726.9 536.8L727.1 536.7L728.1 535.5L728.9 534.9L729.1 534.9L729.9 535.5L730.2 535.5L730.9 534.4L731.2 534.3L732.2 535L733.2 536.1L734.2 536.5L735.2 537.6L737.3 538.9L739 539.2L740 540.3L740.3 540.4L741.3 539.9L742.3 540.1L744.3 540.8L746.1 540.9L748.1 540.7L749.4 541.6"/>
<path class="c" stroke="#191970" stroke-width="3.10" d="M242.6 287.1L243.6 287.1L243.9 544.2L244.9 544.5L247.9 544.3L249.2 544.5L250.2 544.3L251.5 544.5L254 544.4L255.3 544.5L257 544.1L258 544.5L260.1 544.2L263.1 544.4L264.4 544.2L265.1 544.5L267.7 544.5L269.2 544.3L269.9 544.5L271.5 544.5L272.5 544.3L273.7 544.5L275.8 544.5L277.5 544L278.5 544.4L280.3 544.3L283.4 544.3L284.4 544.4L285.6 543.8L286.4 543.8L287.7 544.2L288.7 544L289.7 544.4L291.7 544L292.7 544.3L293.5 544.2L294 543.8L294.5 542.9L295.3 540.8L295.5 540.7L296.3 542.5L297.3 543.6L298.3 544L299.8 544.1L300.8 544.3L301.8 544.3L302.8 544L306.6 544.2L307.9 543.9L308.9 544.4L310.7 544.2L312 544.4L313.7 544.3L315.8 543.7L318 544.2L319.8 544L321.8 543.9L322.8 543.7L324.1 544.1L326.9 543.5L330.9 543.3L332.2 543L333.2 542.9L334.2 542.6L336 541.7L337.3 541.5L338.3 540.8L340.1 539L341.3 537.2L342.1 535.4L342.8 532.8L343.6 528.6L344.1 524.5L344.9 512.6L345.4 499L346.1 462.1L347.4 353L347.7 336.5L347.9 329.6L348.2 334.3L348.4 349.2L349.9 474.5L350.4 497.6L350.9 511.6L352 525.8L352.5 529.9L353.2 533.5L354 535.9L354.7 537.5L356.5 540L358.3 541.5L358.5 541.6L359.6 541.4L360.6 542.2L361.8 542.6L363.3 542.9L364.6 542.9L365.6 543.2L366.6 543.2L367.7 543L370.7 543.6L372.7 543.7L373.7 543.6L374.7 543.8L376.8 543.8L377.8 544L379.8 543.4L380.8 544L381.6 544.1L382.8 543.7L383.9 543.8L384.9 543.5L385.6 543.8L386.9 543.7L388.7 544.1L390.7 543.8L393 544.1L396.8 543.8L398 543.2L400.8 543.5L402.1 543.4L403.1 543.8L404.1 543.5L406.1 544L407.1 543.7L408.2 543.7L408.9 543.6L410.2 544L411.2 543.7L413 543.6L414.2 543.9L415.2 543.7L416.3 543.3L418.3 543.8L419.3 543.5L420.3 543.7L422.1 543.6L423.3 543.2L424.4 543.4L426.1 543.2L427.4 543.4L429.4 542.8L430.4 543.1L431.4 542.7L432.5 542.6L435.2 541.8L436.5 541.7L438.3 541.2L439.3 540.7L441.6 539.1L442.8 537.8L444.6 535.5L446.4 530.1L447.1 525.5L448.2 517.1L448.9 507.8L449.7 494.9L452 443.6L452.5 436.2L452.7 434.6L453 434.4L453.2 435.8L453.7 442.5L455.5 483.3L456.5 503L457.5 516.6L458.8 526.8L459.5 531.1L460.1 532.9L461.1 535.1L462.8 538L463.8 539.2L465.6 540.3L466.9 540.6L469.4 541.8L470.7 542.1L471.9 542.3L473 542.7L475 542.4L476 542.8L478 542.9L479 543.2L481.1 543.1L482.1 543.2L483.1 542.9L485.9 543.5L487.1 543.4L488.2 543.7L489.2 543.3L490.2 543.3L492.2 543.5L493.2 543.4L495.2 543.5L497 543.3L499.3 543.6L501.1 543.4L502.3 543.7L503.3 543.4L504.1 543.5L505.4 543.9L506.4 543.7L507.4 543.2L508.4 543.4L509.4 543.2L510.4 543.4L511.4 543.1L513.5 543.5L516.3 542.9L518.3 543.3L519.3 543.3L521.3 542.9L523.3 543.1L524.6 542.8L526.6 542.8L527.6 543.1L528.7 542.7L529.4 542.3L529.7 542.2L530.7 542.5L531.7 542L532.7 542.2L533.5 542.2L535.7 541.8L536.8 541.8L538.5 541.2L539.8 540.6L540.8 540.5L541.8 540.1L542.8 539.8L545.6 537.6L547.9 534.6L549.7 529.8L550.2 527.7L551.2 522.2L553 509.8L556.5 472.3L557.3 467.5L557.5 466.7L557.8 466.4L558 466.6L558.5 468.5L559.3 474.2L561.8 501.8L563.1 513.8L564.1 520.5L565.4 526.7L566.9 532.4L568.1 535.2L571.2 538.4L573 539.6L574.2 539.8L575.2 540.7L576.2 540.6L578.3 541.7L579.3 542L580.3 542.1L581.3 541.9L583.1 542.2L584.1 542.2L585.4 542.8L588.1 542.8L589.4 543L591.4 542.8L593.2 543.1L594.5 543.1L595.5 543.3L596.5 543.3L597.5 543L598.5 543.1L599.5 543.5L601.6 543.1L604.6 543.1L605.6 543.3L607.4 543.3L610.7 543L613.7 543.6L616.8 543.2L617.8 543.6L618.5 543.7L619.8 543.3L622.6 543L623.8 543.2L625.9 543.2L626.9 543.4L629.9 542.7L632.7 543L634 542.9L635 543.2L636 542.7L638.8 542.5L640 542.8L641.1 542.2L641.8 542.1L643.1 542.5L645.9 541.3L647.1 541.3L651.2 539.1L654.2 535.5L655.2 533L656.2 531.3L658.3 524.6L661.6 515.7L662.1 514.6L662.3 514.3L662.8 514.6L663.6 515.5L665.1 518.5L667.1 524.6L668.6 530L669.4 532L670.7 534.5L672.4 537.2L674.2 539.2L675 539.6L676.5 540L679.3 541.6L680.5 541.7L682.6 542.3L683.6 542.4L684.6 542.3L688.4 543L689.7 542.7L690.7 542.9L691.7 542.7L692.7 543.1L693.7 542.8L696.5 543.2L697.8 542.8L699.5 543.2L700.8 543.2L701.6 543.5L701.8 543.5L702.8 543L704.8 543.4L705.9 543.3L706.9 543.7L707.9 543.2L709.7 543.3L710.9 543.2L712.9 543.5L716 543.2L717.8 543.5L719 543.4L719.8 543.6L721 543L723.1 543.5L724.8 543.2L726.1 543.2L726.9 543L728.1 543.6L729.1 543.1L730.2 543.3L731.9 543L733.2 543.5L735.2 543.4L737 543.6L739 543L740.3 543.2L741 543L742.3 542.4L743.3 543L749.4 542.5"/>
</g>
<path class="t" d="M242.50,544.70v11.70M369.50,544.70v11.70M495.50,544.70v11.70M622.50,544.70v11.70M749.00,544.70v11.70M242.50,544.70h-11.60M242.50,452.60h-11.60M242.50,360.60h-11.60"/>
<rect class="s" x="242.50" y="314.60" width="506.50" height="230.10"/>
<g clip-path="url(#clBR)">
<path class="c" stroke="#8b0000" stroke-width="3.10" d="M850.6 287.1L852.1 287.1L852.4 297.5L853.9 488L854.1 491.3L855.9 491.8L856.4 491.7L857.4 489.6L858.7 486.6L860 484.4L861.2 483L862.5 482.5L864 482.3L864.8 485.7L867.3 500.9L868 498.1L868.8 493.8L871.3 472L873.9 460.2L874.9 454.9L875.4 457.1L876.1 461.7L877.9 477.8L879.9 494.3L880.9 501.5L881.5 504.4L881.7 504.9L882.7 502.3L884.7 495.9L885.8 493.4L886.5 492.2L888.8 485.5L889 485.1L889.8 484.9L890.1 485.2L891.6 489.8L893.8 492.9L895.6 498.3L895.9 498.8L896.1 498.9L896.4 499L896.6 498.9L899.2 494.3L901.2 492.2L901.7 491.7L902.7 491.3L903.2 491.1L903.5 491.3L904.7 495.5L907.5 506.8L908.3 509.1L908.5 509.4L909.5 508.2L912.3 503.5L912.6 503.1L912.8 503.1L914.3 503.7L916.6 505.6L918.9 509.2L919.1 509.5L919.4 509.5L921.7 502.3L921.9 502L922.4 501.9L924.2 501.8L924.5 502L926.7 506.1L927.7 507L929.3 509.2L932 514.5L933.6 516.1L934.3 516.7L934.6 516.7L935.3 515.4L936.3 513.1L939.6 503.7L941.2 500.4L941.9 503.5L943.2 510.8L943.9 514.3L944.2 514.4L944.7 514L947.2 509.3L947.7 508.7L948 508.6L949 509.6L949.8 510.8L952.3 516.5L954.1 519.5L955.3 521.3L955.6 521.5L956.6 521.6L957.3 521.5L959.1 520.3L959.4 519.9L962.1 511.6L962.9 509.7L963.2 509.6L963.9 511.7L964.7 514.4L967.2 525.1L968 527.2L968.2 527.4L970 525.5L973.5 522.8L974 522.7L975 523.8L976.8 526.5L977.3 527.1L977.6 527.2L980.1 526.1L982.1 526L985.2 526.8L987.7 527L990.7 528L992.8 528.1L995 528.8L997.6 528.3L998.6 528.3L1000.3 528.5L1002.9 529.3L1005.1 529.4L1005.4 529.3L1006.2 528.4L1007.9 526L1011 524.1L1011.5 523.8L1011.7 523.8L1013 525L1015.3 526.7L1017 528.7L1018 529.4L1020.6 528.7L1025.6 527.7L1026.6 528.1L1027.9 528.8L1030.7 531.8L1032 532.7L1032.7 533L1033.5 532.6L1035.8 530.5L1037.8 529.7L1039.3 529.3L1043.1 531.3L1045.6 532.8L1048.1 533.9L1050.9 534.8L1053.5 535L1056 536.1L1057.8 536.6L1060 535.6L1063.6 533.7L1064.8 532.3L1066.1 530.2L1068.4 527.9L1070.4 525L1070.9 524.4L1071.2 524.3L1072.2 526.1L1074.2 530.5L1075.2 532.2L1076 533.2L1076.2 533.2L1076.7 532.7L1079.3 529.3L1080 528.6L1080.5 528.5L1083.8 532.9L1085.6 534.7L1086.1 535.1L1086.6 535.2L1091.2 536.1L1093.9 535.9L1095.5 534.6L1097.7 532.1L1098 531.9L1098.2 531.9L1099 533L1100.8 536.8L1101.3 537.7L1101.5 537.8L1102.8 536.3L1105.3 532.7L1106.1 531.8L1106.6 531.5L1113.9 533.5L1119 531.3L1122.3 532.4L1125 532.9L1126.8 533L1129.1 532.8L1130.4 532.5L1134.4 532.4L1136.9 534L1141.2 535.9L1142.2 535.5L1145.3 533.5L1146.5 532.9L1148.8 533.3L1151.6 534.1L1154.4 533.9L1156.4 533L1157.2 532.9L1162 535L1164.3 535.4L1165.5 534.6L1168.3 532.3L1168.6 532.3L1169.8 532.6L1172.3 534.5L1177.2 536.7L1179.9 537.2L1180.2 537.1L1180.7 536.6L1182.5 534L1183.2 533.4L1184 533L1185 533.9L1187.3 535.6L1188.8 537.3L1189.8 538L1191.1 537.4L1195.1 534.8L1196.6 534.1L1197.6 533.8L1200.2 534.2L1203.5 534.1L1207.8 536L1210.3 536.4L1212.6 537.6L1213.6 537.8L1214.3 537.6L1215.6 537L1217.6 535.7L1219.4 534.1L1219.6 534.1L1220.4 534.4L1222.4 537L1223.2 537.6L1224.5 536.9L1227.7 534.5L1228.8 534.3L1233.1 537.1L1235.6 538.1L1237.1 537.6L1240.4 536L1242.9 534.4L1243.2 534.4L1245.7 534.7L1247 534.2L1248.2 534.4L1250.8 536.3L1253.3 537L1255.3 538.2L1256.1 538.5L1261.6 535.5L1263.2 535.8L1265.9 537.5L1269.5 538.9L1273.5 538.8L1276.1 537.9L1281.1 536.7L1283.6 535.9L1285.9 535.9L1288.5 535.6L1291.2 536.5L1293.8 536.1L1295.5 536.4L1297.6 537.4L1302.6 540.3L1303.9 539.1L1306.2 535.6L1306.4 535.7L1307.2 536.4L1310.2 539.6L1311.2 540.4L1311.7 540.6L1316.5 538.5L1320.1 538L1321.6 538.5L1324.4 539.1L1328.9 538.9L1329.9 539L1333 540.3L1334.2 540.5L1336.8 540.2L1341.6 539.3L1344.1 538.6L1345.9 538.3L1351.9 538L1353.2 538.2L1357 540.1"/>
<path class="c" stroke="#e9876a" stroke-opacity="0.55" stroke-width="3.10" d="M850.6 544.5L851.6 544.5L852.1 544.1L853.1 544.4L854.1 544L855.9 544.1L856.4 543.8L856.7 543.4L857.2 540.5L857.9 528.2L858.2 526.1L858.4 527.6L859.2 539.3L859.4 541.3L859.7 542.2L860 542.6L860.2 542.7L860.7 542.6L861.7 542L862.5 541L863.5 538.5L864 535.3L864.3 530.2L864.5 517.4L864.8 490L865.5 287.1L866.3 287.1L866.5 324.6L867 472.9L867.5 525.5L867.8 533.2L868 536.4L868.6 539.4L869.3 541.6L870.3 542.3L871.1 543.5L871.3 543.6L871.8 543.3L872.3 542L872.6 540.3L873.4 531L873.6 529.3L873.9 529.9L874.9 540.7L875.4 542.4L875.9 543.1L876.4 543.3L877.4 542.7L878.2 542.4L878.7 541.6L879.2 539.9L879.7 534.6L880.2 512.7L880.4 487.4L881.2 371.7L881.5 354.4L881.7 366.2L882.5 480.9L883 525.5L883.2 534.1L883.5 538L884 540.9L884.5 541.9L885.2 542.4L886.5 542.5L887.3 542.8L887.5 542.6L887.8 541.9L888.3 538.7L889 531.6L889.3 531.2L889.5 532.3L890.6 540.9L890.8 541.9L891.3 542.9L891.6 542.9L892.6 542.1L893.6 542L894.1 541.4L894.6 540L894.9 538.1L895.4 527.2L895.6 514.7L896.9 389.8L897.1 389.9L898.1 495.3L898.4 514.6L898.9 534L899.2 537.8L899.7 540.7L900.4 542.2L900.7 542.5L901.7 542.7L902.5 543.3L902.7 543.2L903.2 541.9L903.7 539.5L904.5 534.6L904.7 533.9L905 534.5L906 540.5L906.5 541.8L907.3 542.6L907.5 542.7L907.8 542.7L908.8 541.5L909.5 541.3L909.8 540.8L910 539.6L910.3 537.5L910.8 526.5L911.1 515L912.1 424.3L912.3 405.7L912.6 399.8L912.8 408.7L913.8 501.5L914.3 527.3L914.6 533.7L915.1 539.4L915.4 540.5L915.9 541.6L916.4 542L917.6 542.7L917.9 542.7L918.1 542.3L918.6 541.1L920.2 534.7L920.4 534.6L920.7 535.2L921.4 538.9L922.2 541.3L922.7 542.2L922.9 542.3L924 542L924.5 541.6L925 540.8L925.5 539L925.7 536.8L926.2 526.4L926.5 516.9L927.7 431.2L928 423L928.3 425.1L928.5 436.9L929.5 509.4L930 528.7L930.5 537.2L930.8 539.1L931.3 540.8L931.8 541.3L932.8 541.9L933.3 541.8L933.6 541.6L934.1 540.6L935.1 535.1L935.6 533.2L935.8 533.2L936.3 534.1L937.6 540.2L938.1 541.3L938.6 541.1L939.4 540.2L940.4 538.8L940.6 538.1L941.2 534.6L941.4 530.6L941.9 514.8L943.2 431.9L943.4 421.7L943.7 419.9L944.2 441.3L945.2 509.4L945.7 528.2L946 533.3L946.5 537.9L947 539.3L947.7 540.2L948.2 540.5L948.7 540.4L949.2 539.8L949.8 538.2L950.8 533.7L951 533.1L951.3 532.7L951.5 532.6L952 534L953 538.1L953.8 539.6L954.3 539.9L955.3 539.7L955.8 539.2L956.3 537.6L956.8 533.3L957.3 523.8L958.6 478.8L958.9 472.3L959.1 469.6L959.4 471.5L959.6 477.5L960.6 515.5L961.4 532L961.6 534.8L962.1 537.7L962.4 538.5L962.9 539.2L963.9 539.8L964.4 539.7L965.2 538.4L966.4 532.8L966.7 532.3L967 532.2L967.5 533.2L968.7 537.8L969.5 539.3L970.2 539.5L971 539.2L971.5 538.4L971.8 537.4L972.3 534.1L972.8 529L973.3 521.2L974.3 499.6L974.5 497.1L974.8 496.9L975.3 503L976.6 528.5L977.1 534.5L977.6 537.2L977.8 537.6L978.6 538.1L979.1 538.7L979.6 539L980.1 538.7L980.6 537.9L981.6 534.5L982.1 533.3L982.4 533.1L982.6 533.1L982.9 533.4L984.4 537.6L985.2 538.5L985.7 538.7L986.2 538.4L986.9 537.7L987.4 536.6L987.7 535.3L988.2 530L989.7 505.7L990 503.7L990.2 503.2L990.7 507.2L992 527L992.5 532.8L992.8 534.6L993.3 536.4L994.3 538.2L994.5 538.6L994.8 538.7L995.8 537.3L996.5 536.8L997.8 533.5L998.1 533.4L998.3 533.6L998.8 534.4L999.6 535L1000.6 537.9L1000.8 538.3L1001.9 537.5L1002.4 537.7L1002.6 537.5L1002.9 536.9L1003.6 531.3L1005.1 513L1005.4 511.1L1005.7 510.2L1005.9 510.5L1006.4 514.5L1007.4 528.1L1007.9 532.8L1008.7 535.6L1009.4 537.1L1010 537.4L1011.7 536.6L1013 534.9L1013.5 534.4L1013.7 534.5L1014 534.8L1015 537.4L1015.8 537.9L1016.3 537.8L1017.3 537L1018.3 535.7L1018.8 534.3L1019.1 532.9L1020.6 518.4L1021.1 515.2L1021.3 514.9L1021.6 515.4L1021.8 516.7L1022.1 518.7L1023.4 531.6L1023.9 534.5L1024.4 536.1L1024.9 536.7L1025.4 537L1027.2 537.3L1027.9 537.8L1028.2 537.8L1029.2 537L1029.9 537L1030.2 537.2L1031.2 538.5L1031.7 538.6L1032 538.6L1032.2 538.4L1032.5 537.9L1033.7 535L1034.2 533.1L1035 528.7L1036.3 518.5L1036.8 516.6L1037 516.7L1037.3 517.6L1038.3 526.2L1039 531.4L1039.5 533.7L1040.1 535.1L1040.8 536.3L1042.1 537.2L1043.1 537.2L1044.4 536.4L1045.1 536.2L1045.4 536.3L1046.4 537.4L1047.1 537.9L1047.4 537.9L1048.4 536.5L1049.2 536L1049.7 534.9L1050.4 532.1L1051.7 525.7L1051.9 525L1052.2 524.6L1052.4 524.5L1052.7 524.6L1053.2 525.8L1054.5 534.1L1055 534.9L1055.5 535.3L1056 536L1057 536.9L1057.5 537.1L1058.5 536.6L1059.3 536.4L1060.3 536.9L1060.5 536.8L1061.3 535.9L1061.6 535.8L1062.6 536.7L1063.8 536.5L1064.3 536.2L1064.8 535.5L1065.3 534.5L1066.9 529.5L1067.4 528.5L1067.9 528.2L1068.1 528.3L1068.6 529.2L1070.7 534.6L1071.7 535.8L1072.4 537.4L1072.7 537.6L1073.7 536.7L1074.7 537L1075.7 536.4L1077.5 536.3L1077.7 536.4L1078.5 537.3L1078.8 537.4L1079.8 535.9L1080.5 535.4L1080.8 534.9L1081.8 531.5L1082.6 530.1L1083.1 529.6L1083.3 529.6L1084.3 530.5L1085.6 532.7L1086.9 535.3L1088.6 537.2L1088.9 537.2L1089.6 536.3L1089.9 536.2L1090.6 537L1090.9 537.1L1091.9 536.3L1092.9 536.2L1093.9 536.4L1094.7 536.4L1095.2 536L1095.7 535.3L1097 532L1097.7 531L1098.5 529.3L1099 528.8L1099.2 529L1099.8 529.7L1101 533.6L1101.8 535L1102.3 535.4L1103.8 535.8L1105.1 536.6L1107.1 535.9L1108.1 536L1109.1 536L1110.1 536.4L1111.1 536L1111.9 535.3L1112.1 534.8L1113.7 531L1114.2 530.1L1114.4 530L1114.9 530.2L1115.2 530.5L1117 534.4L1117.7 535.4L1118.5 536.1L1120 536.7L1121.3 536.3L1122.3 537.1L1123.3 536.6L1124 536.5L1124.3 536.6L1125 537.4L1125.3 537.4L1127.1 534.9L1128.6 532.3L1129.3 531.5L1129.9 531.4L1130.1 531.4L1130.4 531.8L1131.4 534.5L1133.1 535.4L1134.2 536.3L1135.4 536.5L1136.2 537.2L1136.4 537.2L1137.2 536.2L1137.4 536.1L1138.2 537.3L1138.5 537.5L1139.5 537L1140.5 537.3L1142.2 536.2L1143.5 534.2L1144.3 534L1144.5 533.8L1145.3 532.5L1145.5 532.3L1147.6 534.1L1149.3 537.2L1149.6 537.4L1150.6 537.2L1151.4 537.3L1152.6 538L1153.4 537.5L1154.6 537.4L1155.4 537L1155.7 537L1156.7 537.4L1160.5 534.4L1161 534.1L1161.5 534.1L1162 534.4L1163.5 536.2L1163.7 536.4L1164.8 536.5L1165.8 537.5L1166.8 537.2L1168.6 537.4L1169.6 537.8L1169.8 537.7L1170.6 536.4L1170.8 536.2L1171.8 537L1172.6 537.3L1172.9 537.2L1173.9 535.7L1174.9 535.3L1175.9 534.1L1176.6 534.5L1177.9 535.7L1179.2 536.5L1179.9 536.7L1180.9 536.4L1182 537.2L1182.7 538.2L1183 538.4L1184 537.8L1185 536.9L1185.8 536.7L1186 536.7L1187 537.6L1188 537.1L1188.8 537.1L1189 537L1190.1 535.7L1191.8 535.5L1193.1 536.1L1194.1 536L1195.9 537.6L1196.1 537.7L1197.1 537.1L1197.9 537.3L1198.9 538.3L1199.2 538.3L1200.2 537.6L1200.9 537.3L1202.2 537.6L1203.2 537.2L1204 537.1L1205.2 536.2L1206.2 536.8L1208 535.8L1208.3 535.8L1209.3 536.8L1210 537.2L1211.3 537L1212.3 538L1213.1 538.3L1215.3 537.9L1216.1 538.1L1216.4 538L1217.1 537.3L1217.4 537.3L1218.1 538.4L1218.4 538.6L1219.4 537.5L1222.2 536.9L1223.2 536.2L1223.4 536.1L1224.2 536.6L1225.2 537.5L1225.5 537.7L1226.5 537.7L1227.2 538.5L1227.5 538.5L1228.2 537.8L1228.5 537.7L1229.3 538.6L1229.5 538.7L1230.5 538.3L1231.5 538.6L1234.3 538.5L1236.6 537.4L1237.6 537.4L1238.6 537.8L1240.4 537.2L1240.6 537.3L1242.7 538.4L1243.7 538.3L1245.5 538.4L1246.7 538.1L1247.7 538.4L1248.5 537.9L1248.7 537.9L1249.5 538.8L1249.8 538.9L1250.8 538L1253.5 537.2L1256.6 538.3L1257.6 539.3L1257.8 539.4L1258.9 538.4L1259.6 538.2L1259.9 538.2L1260.9 538.9L1261.9 538.7L1262.7 538.3L1262.9 538.3L1263.9 539.6L1264.9 539.4L1266.7 538L1267 538L1268 538.4L1269.5 537.6L1270 537.5L1272 538.4L1272.8 538.9L1273 538.9L1274 538.5L1275.8 539.1L1276.1 539.1L1276.8 538.7L1277.1 538.8L1277.8 539.8L1278.1 539.9L1279.1 539.2L1280.1 539.3L1281.9 539.3L1282.9 539L1284.2 537.3L1284.9 537.8L1285.9 539.1L1286.2 539.2L1286.9 538.1L1287.2 538L1288.2 538.9L1291 539.6L1291.2 539.6L1292 538.5L1292.2 538.4L1293.3 539.3L1294.3 539.5L1295.3 539.4L1296.3 539.9L1297.3 539.4L1298.3 539.4L1299.1 539.2L1301.4 538.3L1302.4 538.5L1303.1 539.4L1303.4 539.5L1304.4 538.7L1305.1 538.5L1305.4 538.6L1306.4 539.4L1307.4 539.5L1308.4 539L1309.4 539.2L1310.5 539.8L1311.2 539.9L1312.2 539.7L1313.5 539.1L1314.5 539.4L1315.3 539.5L1316.5 539.2L1317.5 539.6L1319.3 539.2L1319.6 539.3L1320.3 540.1L1320.6 540.1L1321.3 539.3L1321.6 539.2L1322.6 540.2L1323.6 539.9L1324.6 540.4L1326.4 539.4L1327.7 539.8L1328.7 539.4L1329.4 539.3L1330.7 538.4L1331.7 538.8L1333.5 539.8L1333.7 539.8L1334.7 539L1336.3 539.7L1337.5 540.1L1338.8 539.9L1339.8 539.9L1340.8 539.6L1341.8 539.9L1342.6 539.6L1342.8 539.7L1343.8 540.4L1344.6 540.4L1345.9 540L1346.9 540.2L1348.9 539.6L1350.7 539.6L1351.9 540.3L1353 539.7L1354 539.9L1355 539.9L1356 540.4L1357 540"/>
<path class="c" stroke="#4682b4" stroke-width="3.10" d="M850.6 287.1L851.6 287.1L851.9 543.7L853.6 544.5L854.9 544.5L856.2 544.2L856.9 544.2L857.7 544.5L858.2 544.5L859.2 543.9L860 543.8L860.2 543.9L861 544.5L861.5 544.5L862.2 544.3L863.2 544.3L865 543.6L865.3 543.7L866 544.5L866.3 544.5L867.3 543.4L868.3 543.5L869.1 544.1L869.3 544.1L870.3 543L872.6 542.9L873.9 542.1L874.6 540.9L875.4 538.8L876.6 532.8L876.9 532.2L877.2 531.9L877.4 532.1L877.7 532.9L878.4 536.2L879.7 540.2L880.2 541.3L880.9 542.1L882.5 542.4L884.2 543.1L884.5 543.1L885.5 542.5L886.3 542.4L887.5 542.9L888.3 542.5L888.5 542.4L889.5 543.1L890.3 542.6L891.6 542.2L892.6 541.4L893.6 541.5L894.4 541.9L894.6 541.8L895.6 539.8L896.4 539.2L897.4 537.5L897.9 536L899.4 530L899.7 528.2L900.2 521.5L900.7 511L901.2 491.6L901.4 474.9L901.9 419.9L902.7 287.1L904 287.1L904.2 289.2L904.7 388.1L905.2 456.9L905.7 494.9L906.2 513.8L906.8 523.1L908.8 535.5L909.5 538L909.8 538.4L910.5 538.4L910.8 538.5L911.8 539.7L913.3 540.8L913.8 540.9L914.8 540.5L915.9 541.2L916.9 542.2L917.9 542L918.9 542.5L919.9 542.2L921.7 542.9L922.9 542.5L924 543L925 542.6L926 541.8L927.2 541.1L928 540.3L929 538.5L930.5 539.5L933.6 542.2L934.1 542.4L935.1 542.2L936.1 542.2L937.1 541.9L938.9 541.6L940.1 541.7L946.2 539.8L948 537.9L949.2 534.7L950 533.8L950.5 531.5L951.3 524.7L952 514.2L952.5 504.6L953.3 485.5L955.1 428.8L955.6 419.2L955.8 417.5L956.1 418.2L956.6 426.3L958.4 482.1L959.1 502L959.9 515.9L960.6 525.5L961.4 532L962.1 534.8L962.4 535.3L963.4 536.5L964.4 538.4L966.2 539.5L967.2 541L967.5 541.2L968.5 540.9L970.2 541L971.5 541.8L974.5 542.1L975.6 542.1L976.6 542L978.6 542.2L981.6 541.6L983.6 542L984.4 542.3L984.7 542.3L985.7 541.7L987.7 542.3L988.5 542.3L989.7 541.3L990.5 541.5L991 541.5L991.7 541.3L992.5 540.9L992.8 540.9L993.5 541.7L993.8 541.6L994.5 539.9L994.8 539.6L995.5 540.6L995.8 540.7L996.8 539.8L997.6 539.4L997.8 539.3L998.6 539.5L998.8 539.4L1000.1 537.7L1001.9 534.5L1002.4 532.9L1002.9 530.4L1003.6 523.8L1004.1 517.5L1005.4 498.2L1007.4 457.9L1007.9 451.9L1008.2 450.8L1008.4 451L1008.7 452.4L1009.2 458.1L1011.2 497.7L1012.5 517.5L1013 523.1L1014 528.6L1014.8 533.9L1015 535L1015.5 536.3L1016 537.3L1016.8 538.3L1018 538.6L1019.8 540.3L1020.1 540.4L1020.8 539.5L1021.1 539.5L1022.1 540.9L1023.1 540.9L1023.9 541.6L1024.1 541.7L1025.1 541.2L1026.1 541.4L1027.2 542L1028.2 541.9L1029.2 541.5L1030.2 541.6L1031.2 541.1L1032 540L1032.2 539.9L1033.2 540.7L1034 540.8L1035.2 540L1037 541.2L1038 541.6L1039.3 541.4L1040.3 541.4L1041.1 541L1041.3 541L1042.1 541.9L1042.3 541.9L1043.3 540.5L1044.4 540.8L1045.4 540.7L1046.4 541.3L1047.1 541L1048.4 540.2L1049.2 540.7L1049.4 540.7L1050.4 539.7L1051.4 538.2L1052.2 537.7L1052.7 537L1053.7 534.7L1054.5 532.1L1056.5 516.5L1057.5 506.1L1059.5 478L1060.3 472.1L1060.5 471.3L1060.8 471.2L1061.3 473.2L1062.1 480L1064.8 517.3L1065.6 523.5L1066.4 527.8L1066.9 530L1068.1 534.1L1068.9 536.1L1069.6 537.5L1070.7 538.7L1071.7 538.7L1073.4 539.5L1074.7 540.8L1075.7 540.5L1077.7 541.1L1078.8 541L1079.8 541.6L1080.8 541.2L1081.8 541.8L1082.8 541.5L1084.6 541.9L1085.8 541.7L1086.6 541.8L1087.6 542.1L1087.9 542L1088.6 540.9L1088.9 540.8L1089.6 542L1089.9 542.1L1090.6 541.6L1090.9 541.5L1091.9 541.7L1092.9 541.2L1093.9 541.7L1094.9 541.3L1096 541.8L1097 541.5L1097.7 541.6L1098 541.5L1098.7 540.6L1099 540.5L1100 541.4L1101 541.1L1102 541.3L1102.8 541.3L1103 541.1L1104.1 539.6L1105.1 538.9L1106.1 537.1L1107.1 536.3L1108.1 534L1109.1 530.7L1110.1 523.9L1111.9 514.2L1112.1 513.4L1112.4 513.1L1112.7 512.9L1113.2 513L1113.4 512.8L1113.7 512.8L1114.2 513.5L1114.9 515.3L1116.7 526L1119 536.5L1119.2 537.2L1120.2 537.6L1121.8 539.3L1123.3 540.5L1125.3 540.9L1126.3 540.8L1127.3 541.1L1128.1 541.1L1129.3 541.6L1130.4 541.3L1131.4 541.7L1132.1 541.8L1133.4 541.4L1134.4 541.7L1136.2 541.8L1137.4 542.5L1139.5 541.2L1141.5 542.2L1143.5 541.8L1144.3 541.4L1144.5 541.4L1145.5 542.5L1146.5 542.2L1147.3 541.4L1147.6 541.4L1148.6 542.5L1149.3 542.5L1150.6 541.6L1151.6 541.6L1152.6 540.9L1154.1 540.8L1155.4 540.2L1155.7 540.2L1156.4 540.7L1156.7 540.7L1157.7 539.1L1158.4 538.9L1158.7 538.7L1159.7 536.6L1160.7 535.6L1161.5 533.9L1162.5 530.7L1163.7 525.5L1164.8 523.3L1165.3 522.8L1165.5 522.8L1165.8 523.1L1166.5 526.1L1166.8 526.6L1167.5 525.7L1167.8 526.1L1168.6 529.5L1169.6 532.8L1170.6 535.2L1171.3 536.4L1173.1 538.6L1174.6 540L1174.9 540.1L1175.9 540L1176.6 540.2L1177.9 541.2L1180.7 542.3L1180.9 542.3L1182 541.4L1183 541.5L1184 542L1185 541.6L1186 542L1187 541.7L1188.8 542L1190.1 541.3L1191.1 541.7L1191.8 542.6L1192.1 542.6L1193.1 541.7L1194.1 542.1L1195.9 541.7L1197.1 542L1199.9 542.1L1201.2 541.5L1201.9 541.4L1203.2 542.3L1205 541.1L1205.2 541.1L1206.2 541.4L1207 541.4L1208.3 540.3L1209.3 540.2L1210.3 539.6L1211.3 537.9L1213.1 536.1L1214.1 534.5L1214.3 534.3L1215.1 534.2L1215.3 533.9L1216.4 530.8L1217.1 529.6L1217.4 529.3L1218.4 529.3L1219.1 528.4L1219.4 528.6L1220.4 531.4L1221.2 531.9L1221.4 532.3L1224.5 539.4L1225.5 540L1227.2 540.2L1229.3 541.2L1230.3 540.8L1230.5 540.9L1231.3 541.7L1231.5 541.8L1232.5 541.3L1233.6 541.3L1235.3 542.7L1235.6 542.8L1236.6 541.8L1238.4 541.7L1241.4 542L1245.5 541.6L1247.7 542.5L1249.8 541.5L1252.8 542.3L1254.8 541.6L1255.8 541.8L1256.6 541.8L1257.8 541L1259.6 541.2L1260.6 541.6L1260.9 541.5L1261.9 540.4L1262.7 540.3L1262.9 540.1L1263.9 537.9L1264.7 538.4L1264.9 538.3L1265.9 536.5L1267.2 535.3L1268.7 534L1270 533.4L1270.7 532.9L1271 532.9L1272 534.4L1273 535.1L1274 536.3L1275 536.8L1276.8 538.8L1277.1 538.9L1277.8 538.8L1278.1 539L1279.1 540.7L1280.1 540.8L1280.9 541.5L1281.1 541.6L1282.1 540.9L1283.9 541.8L1284.2 541.8L1285.2 541.1L1285.9 541.3L1287.2 541.9L1288.2 541.2L1289 541.2L1290.2 541.6L1292.2 541.6L1293.3 542.2L1295 541.6L1296.3 541.9L1297.3 541.6L1298.1 541.8L1299.1 542.4L1299.3 542.4L1300.3 541.7L1301.1 541.7L1302.1 541.9L1303.1 542.4L1303.4 542.4L1304.1 541.3L1304.4 541.2L1306.4 542.3L1307.4 542L1308.2 541.5L1308.4 541.5L1309.2 542.1L1309.4 542.1L1310.2 541.3L1310.5 541.2L1311.2 541.9L1311.5 541.9L1312.5 540.9L1314.3 540.1L1316.8 539.4L1318.6 537.9L1319.6 538.5L1320.3 538.3L1320.6 538.1L1321.8 535.8L1322.3 535.1L1322.6 535L1324.6 537.2L1325.6 537.7L1326.4 537.4L1326.6 537.5L1328.4 539.7L1329.7 540L1330.4 540.7L1330.7 540.8L1331.5 540.2L1331.7 540.1L1332.7 540.8L1334.7 541.1L1336.8 541.8L1337.5 541.6L1338.5 541L1338.8 541L1339.8 542L1340.8 541.7L1341.6 541.8L1341.8 541.8L1342.6 541L1342.8 540.9L1343.8 541.5L1345.9 541.6L1346.9 542.5L1347.6 542.5L1348.9 542.1L1349.9 542.1L1350.7 541.7L1350.9 541.7L1351.9 542.3L1353 542.1L1354 542.1L1355 541.8L1356 542.1L1357 541.9"/>
<path class="c" stroke="#191970" stroke-width="3.10" d="M850.6 287.1L851.6 287.1L851.9 544.4L853.9 544.4L855.4 544.5L856.9 544.2L857.9 544.5L858.9 544.4L860.7 544.5L862.2 544.2L864.3 544.5L865.3 544.1L866.3 544.3L867.3 544.2L868 544.5L870.1 544.5L872.1 544.3L872.9 544.5L873.6 544.5L876.1 544.2L878.2 544.5L879.4 544.1L881.5 544.4L886.5 544.3L889.3 544.5L891.6 544.3L893.6 544.4L895.4 544L896.6 544.5L897.6 544.3L898.7 544.5L899.7 544.2L901.7 544.2L904.5 544.5L905.7 544.3L907.8 544.4L908.8 544.2L909.8 543.8L910.8 543.8L911.3 543.6L912.1 542.6L913.1 540.6L913.3 540.5L914.8 543.4L915.9 543.7L916.9 544.2L919.9 544.3L922.7 544L924.7 544.2L926.7 543.7L929 544.4L930 544.1L931 544.1L933.8 543.9L935.1 544.2L936.1 544L937.1 544.2L939.1 543.7L940.1 544L940.9 544L942.2 543.7L943.9 544L945.2 543.8L946.2 544L947.2 543.8L949 543.9L950.3 543.3L951.3 543.6L952.3 543.3L953.3 543.5L956.1 542.8L957.3 543L959.4 542.5L961.4 542.5L962.4 541.8L963.4 541.6L964.7 540.8L965.4 540.3L966.4 539L967.2 538.7L967.7 537.9L969 534.9L969.7 532.3L970.7 526.4L971.5 518.6L972.3 504.7L972.8 492.1L974.5 425.6L975 412.3L975.3 410.2L975.6 411.6L976.1 423.8L977.3 473.8L978.1 498L978.8 514.2L979.6 523.7L980.4 529.6L981.1 533.2L981.6 534.8L983.1 537.8L984.4 539.6L985.7 540.4L986.4 541.1L987.7 541.4L988.7 542.1L989.5 542.4L991.7 542.6L993.8 543.1L994.8 542.9L995.5 542.9L996.8 543.4L997.8 543.1L998.8 543.4L1000.8 543.2L1001.9 543.5L1002.9 544L1003.9 543.7L1004.9 543.9L1005.9 543.7L1007.7 543.8L1008.9 543.6L1010 543.8L1012 543.9L1013.7 543.7L1014.8 543.4L1015 543.4L1016 543.9L1018.8 544L1020.1 543.8L1021.8 544.1L1023.9 543.6L1025.1 543.9L1026.1 543.7L1028.2 544L1029.2 543.8L1031.2 543.9L1032.2 543.6L1033.2 543.8L1034.2 543.6L1036.3 543.8L1038.3 543.7L1040.3 543.9L1041.3 543.7L1042.3 543.9L1044.1 543.7L1045.4 544.2L1047.4 543.8L1049.2 543.6L1051.2 543.8L1052.4 543.7L1053.5 543.9L1054.5 543.5L1055.5 543.4L1057.3 543.7L1058.5 543.2L1059.5 543.7L1060.5 543.7L1061.6 543.3L1063.6 543.5L1067.4 543.3L1069.4 543.4L1070.7 542.8L1072.4 543L1073.7 542.7L1075.5 543L1076.7 542.2L1078.8 542.4L1080.8 542L1082.6 541.8L1084.8 540.4L1087.6 539.1L1089.6 536.6L1091.2 533.5L1092.4 530.1L1093.4 525.8L1093.9 522.9L1095.7 508.9L1098.2 484.2L1099 479.3L1099.5 478L1099.8 478L1100 478.4L1100.8 482.1L1104.6 516.9L1105.6 523.6L1107.1 531L1109.1 535.8L1109.9 537.1L1110.6 538L1113.2 540.1L1114.2 540L1116.2 540.9L1117.2 541.2L1118 541.2L1119.2 542L1120.2 542L1121.3 542.2L1122.3 542.6L1124.3 542.7L1127.1 543.2L1128.3 542.9L1131.1 543.1L1132.4 542.9L1133.4 543.2L1134.4 543.1L1135.4 543.3L1137.4 543.4L1138.5 543.7L1139.5 543.4L1141.2 543.1L1142.5 543.5L1143.3 543.6L1144.5 543.1L1145.5 543.3L1146.5 543.1L1150.6 543.6L1153.6 543.5L1155.4 543.7L1156.7 543.2L1157.7 543.8L1158.7 543.5L1159.7 543.7L1161.7 543.1L1163.5 543.5L1164.8 543.2L1165.8 543.5L1166.8 543.1L1167.8 543.3L1169.8 543.3L1171.6 543.5L1175.9 543.1L1179.7 543.2L1180.9 543L1182 543.2L1183 543L1184 543.1L1185 542.9L1186 543L1188 542.5L1189 542.8L1192.8 542.4L1194.1 542.4L1195.1 542.1L1196.1 542.1L1198.1 541.5L1199.2 541.6L1201.2 541.1L1202.2 540.7L1203.2 540.8L1204 540.6L1205.2 539.6L1206.2 539.3L1208.3 538L1209.3 537.5L1210.3 536.4L1211.3 534.7L1213.3 532.1L1215.3 526.6L1216.9 521.6L1219.1 513.6L1220.4 508.4L1221.7 503.9L1222.9 500.9L1223.4 500.2L1223.9 500L1224.5 500.2L1225 500.8L1226.2 503.9L1227.5 508.1L1229.5 516.5L1232.3 526.2L1234.1 530.7L1235.3 533.1L1238.4 537.2L1239.6 537.9L1240.6 538.8L1241.7 539.4L1242.7 540.1L1243.7 540.2L1245.7 540.9L1247.7 541.1L1248.7 541.6L1249.8 541.7L1250.8 541.6L1252.8 542L1255.6 542.1L1256.8 542.6L1258.6 542.3L1259.9 542.8L1263.7 542.6L1264.9 543.1L1265.9 542.8L1269.7 543.2L1272 543L1274.8 543.4L1276.1 543.1L1279.1 543.3L1280.1 543.2L1281.1 543.3L1282.9 542.9L1284.2 543.4L1285.2 543.2L1286.2 543.4L1287.9 543L1289.2 543.6L1291.2 543.7L1292.2 543.1L1294.3 543.4L1297.1 543.4L1298.3 543.8L1299.1 543.5L1300.3 543.5L1301.4 543.2L1303.1 543.4L1304.4 543.1L1305.4 543.4L1307.4 543.1L1309.2 543.3L1310.5 543.1L1311.5 543.4L1312.5 543.3L1313.5 543L1314.5 543.3L1315.5 542.7L1318.3 542.9L1322.6 542.6L1324.6 542.8L1326.6 542.2L1328.7 542.2L1329.7 541.8L1330.7 541.7L1331.7 541.3L1332.5 541.4L1332.7 541.3L1333.7 540.1L1334.7 539.9L1337.8 538.4L1338.8 537.4L1339.8 536.1L1340.8 535.4L1341.8 534L1343.6 532.7L1344.9 530.7L1346.6 529.8L1347.9 528.7L1349.7 529.1L1350.9 530.5L1351.7 530.7L1351.9 531L1353 532.4L1353.7 532.6L1354 532.9L1355 534.5L1357 536.6"/>
</g>
<path class="t" d="M850.50,544.70v11.70M977.50,544.70v11.70M1103.50,544.70v11.70M1230.50,544.70v11.70M1356.70,544.70v11.70M850.50,544.70h-11.60M850.50,452.60h-11.60M850.50,360.60h-11.60"/>
<rect class="s" x="850.50" y="314.60" width="506.20" height="230.10"/>
<text x="495.90" y="25.70" font-size="35.50" text-anchor="middle" textLength="242.80" lengthAdjust="spacingAndGlyphs">maximum strain</text>
<text x="1103.80" y="25.50" font-size="35.50" text-anchor="middle" textLength="107.70" lengthAdjust="spacingAndGlyphs">relaxed</text>
<text x="26.20" y="153.50" font-size="35.50" text-anchor="middle" textLength="67.50" lengthAdjust="spacingAndGlyphs" transform="rotate(-90 26.20 153.50)">with</text>
<text x="64.30" y="152.70" font-size="35.50" text-anchor="middle" textLength="148.60" lengthAdjust="spacingAndGlyphs" transform="rotate(-90 64.30 152.70)">cross-slip:</text>
<text x="141.80" y="153.50" font-size="35.50" text-anchor="middle" textLength="161.00" lengthAdjust="spacingAndGlyphs" transform="rotate(-90 141.80 153.50)">probability</text>
<text x="180.20" y="153.50" font-size="35.50" text-anchor="middle" textLength="106.00" lengthAdjust="spacingAndGlyphs" transform="rotate(-90 180.20 153.50)">density</text>
<text x="26.20" y="429.50" font-size="35.50" text-anchor="middle" textLength="114.80" lengthAdjust="spacingAndGlyphs" transform="rotate(-90 26.20 429.50)">without</text>
<text x="64.30" y="428.70" font-size="35.50" text-anchor="middle" textLength="148.60" lengthAdjust="spacingAndGlyphs" transform="rotate(-90 64.30 428.70)">cross-slip:</text>
<text x="141.80" y="429.50" font-size="35.50" text-anchor="middle" textLength="161.00" lengthAdjust="spacingAndGlyphs" transform="rotate(-90 141.80 429.50)">probability</text>
<text x="180.20" y="429.50" font-size="35.50" text-anchor="middle" textLength="106.00" lengthAdjust="spacingAndGlyphs" transform="rotate(-90 180.20 429.50)">density</text>
<text x="218.90" y="280.20" font-size="34.20" text-anchor="end" textLength="17.80" lengthAdjust="spacingAndGlyphs">0</text>
<text x="218.90" y="188.20" font-size="34.20" text-anchor="end" textLength="17.80" lengthAdjust="spacingAndGlyphs">2</text>
<text x="218.90" y="96.20" font-size="34.20" text-anchor="end" textLength="17.80" lengthAdjust="spacingAndGlyphs">4</text>
<text x="218.90" y="556.40" font-size="34.20" text-anchor="end" textLength="17.80" lengthAdjust="spacingAndGlyphs">0</text>
<text x="218.90" y="464.30" font-size="34.20" text-anchor="end" textLength="17.80" lengthAdjust="spacingAndGlyphs">2</text>
<text x="218.90" y="372.30" font-size="34.20" text-anchor="end" textLength="17.80" lengthAdjust="spacingAndGlyphs">4</text>
<text x="242.50" y="593.20" font-size="34.20" text-anchor="middle" textLength="45.40" lengthAdjust="spacingAndGlyphs">0.0</text>
<text x="369.50" y="593.20" font-size="34.20" text-anchor="middle" textLength="45.40" lengthAdjust="spacingAndGlyphs">0.5</text>
<text x="495.50" y="593.20" font-size="34.20" text-anchor="middle" textLength="45.40" lengthAdjust="spacingAndGlyphs">1.0</text>
<text x="622.50" y="593.20" font-size="34.20" text-anchor="middle" textLength="45.40" lengthAdjust="spacingAndGlyphs">1.5</text>
<text x="749.00" y="593.20" font-size="34.20" text-anchor="middle" textLength="45.40" lengthAdjust="spacingAndGlyphs">2.0</text>
<text x="850.50" y="593.20" font-size="34.20" text-anchor="middle" textLength="45.40" lengthAdjust="spacingAndGlyphs">0.0</text>
<text x="977.50" y="593.20" font-size="34.20" text-anchor="middle" textLength="45.40" lengthAdjust="spacingAndGlyphs">0.5</text>
<text x="1103.50" y="593.20" font-size="34.20" text-anchor="middle" textLength="45.40" lengthAdjust="spacingAndGlyphs">1.0</text>
<text x="1230.50" y="593.20" font-size="34.20" text-anchor="middle" textLength="45.40" lengthAdjust="spacingAndGlyphs">1.5</text>
<text x="1356.70" y="593.20" font-size="34.20" text-anchor="middle" textLength="45.40" lengthAdjust="spacingAndGlyphs">2.0</text>
<text transform="translate(405.00 646.70) scale(1.13 1)" font-size="35.00" font-style="italic">ρ</text>
<text x="426.10" y="633.50" font-size="25.50" textLength="30.5" lengthAdjust="spacingAndGlyphs">(0)</text>
<text x="469.00" y="646.70" font-size="35.50" textLength="28" lengthAdjust="spacingAndGlyphs">in</text>
<text x="505.80" y="649.20" font-size="40.50" stroke-width="0">⟨</text>
<text transform="translate(520.00 646.70) scale(1.13 1)" font-size="35.00" font-style="italic">ρ</text>
<text x="540.80" y="633.50" font-size="25.50" textLength="30.5" lengthAdjust="spacingAndGlyphs">(0)</text>
<text x="573.80" y="649.20" font-size="40.50" stroke-width="0">⟩</text>
<text transform="translate(1013.00 646.70) scale(1.13 1)" font-size="35.00" font-style="italic">ρ</text>
<text x="1034.10" y="633.50" font-size="25.50" textLength="30.5" lengthAdjust="spacingAndGlyphs">(0)</text>
<text x="1077.00" y="646.70" font-size="35.50" textLength="28" lengthAdjust="spacingAndGlyphs">in</text>
<text x="1113.80" y="649.20" font-size="40.50" stroke-width="0">⟨</text>
<text transform="translate(1128.00 646.70) scale(1.13 1)" font-size="35.00" font-style="italic">ρ</text>
<text x="1148.80" y="633.50" font-size="25.50" textLength="30.5" lengthAdjust="spacingAndGlyphs">(0)</text>
<text x="1181.80" y="649.20" font-size="40.50" stroke-width="0">⟩</text>
<text x="1415.80" y="210.00" font-size="35.50" text-anchor="start" textLength="114.00" lengthAdjust="spacingAndGlyphs">number</text>
<text x="1415.00" y="248.90" font-size="35.50" text-anchor="start" textLength="131.50" lengthAdjust="spacingAndGlyphs">of voxels</text>
<path d="M1412.2,287.90H1490.7" stroke="#8b0000" stroke-width="5.1" fill="none"/>
<text x="1518.30" y="300.80" font-size="33.50" text-anchor="start" textLength="33.40" lengthAdjust="spacingAndGlyphs">16</text>
<path d="M1412.2,340.20H1490.7" stroke="#e9876a" stroke-opacity="0.55" stroke-width="5.1" fill="none"/>
<text x="1518.30" y="353.10" font-size="33.50" text-anchor="start" textLength="33.40" lengthAdjust="spacingAndGlyphs">32</text>
<path d="M1412.2,392.50H1490.7" stroke="#4682b4" stroke-width="5.1" fill="none"/>
<text x="1518.30" y="405.40" font-size="33.50" text-anchor="start" textLength="33.40" lengthAdjust="spacingAndGlyphs">48</text>
<path d="M1412.2,444.80H1490.7" stroke="#191970" stroke-width="5.1" fill="none"/>
<text x="1518.30" y="457.70" font-size="33.50" text-anchor="start" textLength="33.40" lengthAdjust="spacingAndGlyphs">64</text>
</svg></body></html>
